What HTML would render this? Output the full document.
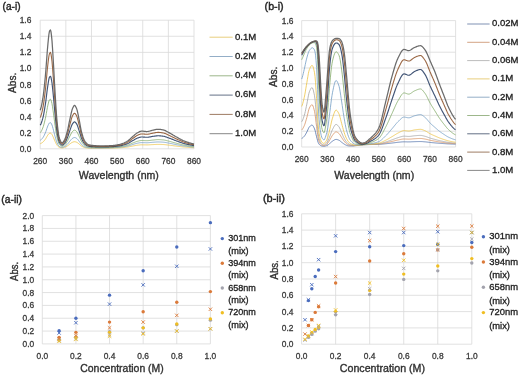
<!DOCTYPE html>
<html><head><meta charset="utf-8"><title>Absorption spectra</title>
<style>
html,body{margin:0;padding:0;background:#fff;}
body{width:520px;height:375px;overflow:hidden;}
svg{display:block;font-family:'Liberation Sans', Arial, sans-serif;filter:blur(0.4px);}
</style></head><body>
<svg width="520" height="375" viewBox="0 0 520 375">
<rect width="520" height="375" fill="#fff"/>
<text x="2.60" y="10.30" font-size="10.2" text-anchor="start" fill="#262626" textLength="17.90" lengthAdjust="spacingAndGlyphs" stroke="#262626" stroke-width="0.4" >(a-i)</text>
<text x="264.60" y="10.30" font-size="10.2" text-anchor="start" fill="#262626" textLength="19.00" lengthAdjust="spacingAndGlyphs" stroke="#262626" stroke-width="0.4" >(b-i)</text>
<text x="1.30" y="202.50" font-size="10.2" text-anchor="start" fill="#262626" textLength="20.60" lengthAdjust="spacingAndGlyphs" stroke="#262626" stroke-width="0.4" >(a-ii)</text>
<text x="262.90" y="202.20" font-size="10.2" text-anchor="start" fill="#262626" textLength="22.00" lengthAdjust="spacingAndGlyphs" stroke="#262626" stroke-width="0.4" >(b-ii)</text>
<line x1="40.20" y1="148.80" x2="194.00" y2="148.80" stroke="#d9d9d9" stroke-width="0.8"/>
<text x="31.30" y="151.80" font-size="8.4" text-anchor="end" fill="#383838" stroke="#383838" stroke-width="0.28" >0.0</text>
<line x1="40.20" y1="132.73" x2="194.00" y2="132.73" stroke="#d9d9d9" stroke-width="0.8"/>
<text x="31.30" y="135.73" font-size="8.4" text-anchor="end" fill="#383838" stroke="#383838" stroke-width="0.28" >0.2</text>
<line x1="40.20" y1="116.65" x2="194.00" y2="116.65" stroke="#d9d9d9" stroke-width="0.8"/>
<text x="31.30" y="119.65" font-size="8.4" text-anchor="end" fill="#383838" stroke="#383838" stroke-width="0.28" >0.4</text>
<line x1="40.20" y1="100.57" x2="194.00" y2="100.57" stroke="#d9d9d9" stroke-width="0.8"/>
<text x="31.30" y="103.57" font-size="8.4" text-anchor="end" fill="#383838" stroke="#383838" stroke-width="0.28" >0.6</text>
<line x1="40.20" y1="84.50" x2="194.00" y2="84.50" stroke="#d9d9d9" stroke-width="0.8"/>
<text x="31.30" y="87.50" font-size="8.4" text-anchor="end" fill="#383838" stroke="#383838" stroke-width="0.28" >0.8</text>
<line x1="40.20" y1="68.42" x2="194.00" y2="68.42" stroke="#d9d9d9" stroke-width="0.8"/>
<text x="31.30" y="71.42" font-size="8.4" text-anchor="end" fill="#383838" stroke="#383838" stroke-width="0.28" >1.0</text>
<line x1="40.20" y1="52.35" x2="194.00" y2="52.35" stroke="#d9d9d9" stroke-width="0.8"/>
<text x="31.30" y="55.35" font-size="8.4" text-anchor="end" fill="#383838" stroke="#383838" stroke-width="0.28" >1.2</text>
<line x1="40.20" y1="36.27" x2="194.00" y2="36.27" stroke="#d9d9d9" stroke-width="0.8"/>
<text x="31.30" y="39.27" font-size="8.4" text-anchor="end" fill="#383838" stroke="#383838" stroke-width="0.28" >1.4</text>
<line x1="40.20" y1="20.20" x2="194.00" y2="20.20" stroke="#d9d9d9" stroke-width="0.8"/>
<text x="31.30" y="23.20" font-size="8.4" text-anchor="end" fill="#383838" stroke="#383838" stroke-width="0.28" >1.6</text>
<line x1="40.20" y1="20.20" x2="40.20" y2="148.80" stroke="#d9d9d9" stroke-width="0.8"/>
<text x="40.20" y="163.60" font-size="8.4" text-anchor="middle" fill="#383838" stroke="#383838" stroke-width="0.28" >260</text>
<line x1="65.83" y1="20.20" x2="65.83" y2="148.80" stroke="#d9d9d9" stroke-width="0.8"/>
<text x="65.83" y="163.60" font-size="8.4" text-anchor="middle" fill="#383838" stroke="#383838" stroke-width="0.28" >360</text>
<line x1="91.47" y1="20.20" x2="91.47" y2="148.80" stroke="#d9d9d9" stroke-width="0.8"/>
<text x="91.47" y="163.60" font-size="8.4" text-anchor="middle" fill="#383838" stroke="#383838" stroke-width="0.28" >460</text>
<line x1="117.10" y1="20.20" x2="117.10" y2="148.80" stroke="#d9d9d9" stroke-width="0.8"/>
<text x="117.10" y="163.60" font-size="8.4" text-anchor="middle" fill="#383838" stroke="#383838" stroke-width="0.28" >560</text>
<line x1="142.73" y1="20.20" x2="142.73" y2="148.80" stroke="#d9d9d9" stroke-width="0.8"/>
<text x="142.73" y="163.60" font-size="8.4" text-anchor="middle" fill="#383838" stroke="#383838" stroke-width="0.28" >660</text>
<line x1="168.37" y1="20.20" x2="168.37" y2="148.80" stroke="#d9d9d9" stroke-width="0.8"/>
<text x="168.37" y="163.60" font-size="8.4" text-anchor="middle" fill="#383838" stroke="#383838" stroke-width="0.28" >760</text>
<line x1="194.00" y1="20.20" x2="194.00" y2="148.80" stroke="#d9d9d9" stroke-width="0.8"/>
<text x="194.00" y="163.60" font-size="8.4" text-anchor="middle" fill="#383838" stroke="#383838" stroke-width="0.28" >860</text>
<path d="M40.20,143.71 L40.71,143.52 L41.23,143.27 L41.74,142.96 L42.25,142.61 L42.76,142.22 L43.28,141.77 L43.79,141.23 L44.30,140.61 L44.81,139.94 L45.33,139.25 L45.84,138.47 L46.35,137.57 L46.86,136.65 L47.38,135.76 L47.89,135.01 L48.40,134.31 L48.92,133.68 L49.43,133.31 L49.94,133.16 L50.45,133.10 L50.97,133.33 L51.48,133.86 L51.99,134.52 L52.50,135.50 L53.02,136.60 L53.53,137.74 L54.04,138.98 L54.55,140.22 L55.07,141.37 L55.58,142.47 L56.09,143.55 L56.61,144.53 L57.12,145.30 L57.63,145.92 L58.14,146.49 L58.66,146.94 L59.17,147.26 L59.68,147.45 L60.19,147.60 L60.71,147.73 L61.22,147.83 L61.73,147.89 L62.24,147.90 L62.76,147.86 L63.27,147.76 L63.78,147.62 L64.30,147.45 L64.81,147.27 L65.32,147.06 L65.83,146.80 L66.35,146.53 L66.86,146.23 L67.37,145.92 L67.88,145.57 L68.40,145.17 L68.91,144.76 L69.42,144.34 L69.93,143.95 L70.45,143.57 L70.96,143.18 L71.47,142.81 L71.99,142.49 L72.50,142.25 L73.01,142.06 L73.52,141.89 L74.04,141.77 L74.55,141.73 L75.06,141.77 L75.57,141.89 L76.09,142.06 L76.60,142.25 L77.11,142.50 L77.62,142.84 L78.14,143.25 L78.65,143.67 L79.16,144.08 L79.68,144.50 L80.19,144.96 L80.70,145.42 L81.21,145.84 L81.73,146.18 L82.24,146.47 L82.75,146.74 L83.26,146.99 L83.78,147.22 L84.29,147.41 L84.80,147.56 L85.31,147.67 L85.83,147.77 L86.34,147.86 L86.85,147.94 L87.37,148.00 L87.88,148.06 L88.39,148.10 L88.90,148.12 L89.42,148.14 L89.93,148.16 L90.44,148.17 L90.95,148.18 L91.47,148.19 L91.98,148.20 L92.49,148.21 L93.00,148.22 L93.52,148.22 L94.03,148.23 L94.54,148.23 L95.06,148.23 L95.57,148.24 L96.08,148.24 L96.59,148.24 L97.11,148.25 L97.62,148.25 L98.13,148.25 L98.64,148.26 L99.16,148.26 L99.67,148.26 L100.18,148.26 L100.69,148.26 L101.21,148.26 L101.72,148.25 L102.23,148.25 L102.75,148.25 L103.26,148.24 L103.77,148.24 L104.28,148.23 L104.80,148.23 L105.31,148.22 L105.82,148.21 L106.33,148.21 L106.85,148.20 L107.36,148.19 L107.87,148.18 L108.38,148.17 L108.90,148.17 L109.41,148.16 L109.92,148.15 L110.44,148.14 L110.95,148.13 L111.46,148.12 L111.97,148.11 L112.49,148.10 L113.00,148.08 L113.51,148.07 L114.02,148.05 L114.54,148.03 L115.05,148.01 L115.56,147.99 L116.07,147.97 L116.59,147.95 L117.10,147.92 L117.61,147.90 L118.13,147.88 L118.64,147.85 L119.15,147.83 L119.66,147.80 L120.18,147.77 L120.69,147.74 L121.20,147.71 L121.71,147.67 L122.23,147.63 L122.74,147.58 L123.25,147.54 L123.76,147.49 L124.28,147.44 L124.79,147.38 L125.30,147.32 L125.82,147.27 L126.33,147.20 L126.84,147.14 L127.35,147.07 L127.87,147.00 L128.38,146.92 L128.89,146.82 L129.40,146.72 L129.92,146.61 L130.43,146.50 L130.94,146.39 L131.45,146.28 L131.97,146.17 L132.48,146.08 L132.99,145.98 L133.51,145.88 L134.02,145.78 L134.53,145.68 L135.04,145.58 L135.56,145.48 L136.07,145.39 L136.58,145.31 L137.09,145.23 L137.61,145.17 L138.12,145.11 L138.63,145.04 L139.14,144.98 L139.66,144.93 L140.17,144.88 L140.68,144.84 L141.20,144.81 L141.71,144.80 L142.22,144.81 L142.73,144.81 L143.25,144.82 L143.76,144.84 L144.27,144.85 L144.78,144.86 L145.30,144.87 L145.81,144.89 L146.32,144.89 L146.83,144.89 L147.35,144.89 L147.86,144.88 L148.37,144.86 L148.89,144.83 L149.40,144.81 L149.91,144.77 L150.42,144.74 L150.94,144.71 L151.45,144.67 L151.96,144.64 L152.47,144.61 L152.99,144.59 L153.50,144.56 L154.01,144.54 L154.52,144.51 L155.04,144.48 L155.55,144.46 L156.06,144.43 L156.58,144.42 L157.09,144.40 L157.60,144.39 L158.11,144.39 L158.63,144.39 L159.14,144.39 L159.65,144.40 L160.16,144.42 L160.68,144.43 L161.19,144.45 L161.70,144.47 L162.21,144.49 L162.73,144.51 L163.24,144.53 L163.75,144.56 L164.27,144.60 L164.78,144.65 L165.29,144.70 L165.80,144.76 L166.32,144.82 L166.83,144.89 L167.34,144.95 L167.85,145.01 L168.37,145.08 L168.88,145.14 L169.39,145.20 L169.90,145.26 L170.42,145.33 L170.93,145.40 L171.44,145.47 L171.96,145.53 L172.47,145.60 L172.98,145.67 L173.49,145.74 L174.01,145.81 L174.52,145.88 L175.03,145.95 L175.54,146.01 L176.06,146.08 L176.57,146.14 L177.08,146.20 L177.59,146.27 L178.11,146.34 L178.62,146.40 L179.13,146.47 L179.65,146.53 L180.16,146.59 L180.67,146.66 L181.18,146.72 L181.70,146.77 L182.21,146.83 L182.72,146.89 L183.23,146.94 L183.75,146.98 L184.26,147.03 L184.77,147.07 L185.28,147.12 L185.80,147.16 L186.31,147.21 L186.82,147.25 L187.34,147.29 L187.85,147.33 L188.36,147.37 L188.87,147.41 L189.39,147.44 L189.90,147.48 L190.41,147.51 L190.92,147.54 L191.44,147.58 L191.95,147.61 L192.46,147.63 L192.97,147.66 L193.49,147.69 L194.00,147.71" stroke="#ebbf39" stroke-width="1.0" stroke-opacity="0.75" fill="none" stroke-linejoin="round"/>
<path d="M40.20,140.31 L40.71,140.00 L41.23,139.58 L41.74,139.06 L42.25,138.48 L42.76,137.84 L43.28,137.09 L43.79,136.18 L44.30,135.15 L44.81,134.04 L45.33,132.89 L45.84,131.58 L46.35,130.09 L46.86,128.54 L47.38,127.07 L47.89,125.81 L48.40,124.65 L48.92,123.60 L49.43,122.98 L49.94,122.74 L50.45,122.63 L50.97,123.02 L51.48,123.90 L51.99,124.99 L52.50,126.63 L53.02,128.47 L53.53,130.37 L54.04,132.43 L54.55,134.50 L55.07,136.42 L55.58,138.25 L56.09,140.06 L56.61,141.68 L57.12,142.96 L57.63,144.01 L58.14,144.95 L58.66,145.71 L59.17,146.26 L59.68,146.57 L60.19,146.82 L60.71,147.04 L61.22,147.21 L61.73,147.32 L62.24,147.35 L62.76,147.28 L63.27,147.12 L63.78,146.89 L64.30,146.63 L64.81,146.34 L65.32,146.02 L65.83,145.61 L66.35,145.17 L66.86,144.70 L67.37,144.20 L67.88,143.65 L68.40,143.02 L68.91,142.35 L69.42,141.69 L69.93,141.07 L70.45,140.46 L70.96,139.84 L71.47,139.24 L71.99,138.73 L72.50,138.35 L73.01,138.05 L73.52,137.78 L74.04,137.59 L74.55,137.52 L75.06,137.59 L75.57,137.78 L76.09,138.05 L76.60,138.35 L77.11,138.75 L77.62,139.30 L78.14,139.94 L78.65,140.62 L79.16,141.28 L79.68,141.95 L80.19,142.68 L80.70,143.41 L81.21,144.07 L81.73,144.62 L82.24,145.08 L82.75,145.52 L83.26,145.92 L83.78,146.28 L84.29,146.58 L84.80,146.82 L85.31,147.00 L85.83,147.16 L86.34,147.31 L86.85,147.43 L87.37,147.53 L87.88,147.62 L88.39,147.68 L88.90,147.72 L89.42,147.75 L89.93,147.78 L90.44,147.80 L90.95,147.82 L91.47,147.84 L91.98,147.85 L92.49,147.87 L93.00,147.88 L93.52,147.88 L94.03,147.89 L94.54,147.90 L95.06,147.91 L95.57,147.91 L96.08,147.92 L96.59,147.92 L97.11,147.93 L97.62,147.94 L98.13,147.94 L98.64,147.94 L99.16,147.95 L99.67,147.95 L100.18,147.95 L100.69,147.95 L101.21,147.95 L101.72,147.94 L102.23,147.94 L102.75,147.93 L103.26,147.93 L103.77,147.92 L104.28,147.91 L104.80,147.90 L105.31,147.89 L105.82,147.88 L106.33,147.87 L106.85,147.86 L107.36,147.85 L107.87,147.84 L108.38,147.83 L108.90,147.81 L109.41,147.80 L109.92,147.78 L110.44,147.77 L110.95,147.75 L111.46,147.74 L111.97,147.72 L112.49,147.71 L113.00,147.69 L113.51,147.66 L114.02,147.64 L114.54,147.61 L115.05,147.58 L115.56,147.55 L116.07,147.52 L116.59,147.48 L117.10,147.44 L117.61,147.41 L118.13,147.37 L118.64,147.33 L119.15,147.29 L119.66,147.25 L120.18,147.21 L120.69,147.16 L121.20,147.11 L121.71,147.05 L122.23,146.99 L122.74,146.92 L123.25,146.85 L123.76,146.77 L124.28,146.69 L124.79,146.60 L125.30,146.52 L125.82,146.42 L126.33,146.33 L126.84,146.23 L127.35,146.13 L127.87,146.01 L128.38,145.88 L128.89,145.73 L129.40,145.58 L129.92,145.41 L130.43,145.24 L130.94,145.07 L131.45,144.90 L131.97,144.73 L132.48,144.58 L132.99,144.43 L133.51,144.28 L134.02,144.12 L134.53,143.96 L135.04,143.81 L135.56,143.66 L136.07,143.52 L136.58,143.39 L137.09,143.27 L137.61,143.17 L138.12,143.08 L138.63,142.98 L139.14,142.89 L139.66,142.80 L140.17,142.72 L140.68,142.66 L141.20,142.63 L141.71,142.61 L142.22,142.62 L142.73,142.63 L143.25,142.64 L143.76,142.66 L144.27,142.68 L144.78,142.70 L145.30,142.72 L145.81,142.74 L146.32,142.75 L146.83,142.75 L147.35,142.75 L147.86,142.73 L148.37,142.70 L148.89,142.66 L149.40,142.61 L149.91,142.56 L150.42,142.51 L150.94,142.46 L151.45,142.41 L151.96,142.36 L152.47,142.31 L152.99,142.27 L153.50,142.24 L154.01,142.20 L154.52,142.16 L155.04,142.11 L155.55,142.08 L156.06,142.04 L156.58,142.01 L157.09,141.99 L157.60,141.97 L158.11,141.96 L158.63,141.97 L159.14,141.98 L159.65,141.99 L160.16,142.01 L160.68,142.03 L161.19,142.06 L161.70,142.09 L162.21,142.12 L162.73,142.15 L163.24,142.19 L163.75,142.23 L164.27,142.29 L164.78,142.37 L165.29,142.45 L165.80,142.54 L166.32,142.64 L166.83,142.74 L167.34,142.84 L167.85,142.94 L168.37,143.03 L168.88,143.13 L169.39,143.22 L169.90,143.32 L170.42,143.43 L170.93,143.53 L171.44,143.64 L171.96,143.74 L172.47,143.85 L172.98,143.96 L173.49,144.06 L174.01,144.17 L174.52,144.28 L175.03,144.38 L175.54,144.48 L176.06,144.58 L176.57,144.68 L177.08,144.78 L177.59,144.88 L178.11,144.98 L178.62,145.08 L179.13,145.19 L179.65,145.28 L180.16,145.38 L180.67,145.48 L181.18,145.57 L181.70,145.66 L182.21,145.75 L182.72,145.83 L183.23,145.91 L183.75,145.99 L184.26,146.06 L184.77,146.13 L185.28,146.20 L185.80,146.26 L186.31,146.33 L186.82,146.40 L187.34,146.46 L187.85,146.52 L188.36,146.58 L188.87,146.64 L189.39,146.70 L189.90,146.75 L190.41,146.81 L190.92,146.86 L191.44,146.91 L191.95,146.95 L192.46,147.00 L192.97,147.04 L193.49,147.08 L194.00,147.11" stroke="#6a97c0" stroke-width="1.0" stroke-opacity="0.75" fill="none" stroke-linejoin="round"/>
<path d="M40.20,132.71 L40.71,132.12 L41.23,131.32 L41.74,130.35 L42.25,129.23 L42.76,128.02 L43.28,126.60 L43.79,124.88 L44.30,122.93 L44.81,120.82 L45.33,118.64 L45.84,116.17 L46.35,113.34 L46.86,110.41 L47.38,107.62 L47.89,105.23 L48.40,103.02 L48.92,101.03 L49.43,99.87 L49.94,99.40 L50.45,99.20 L50.97,99.93 L51.48,101.60 L51.99,103.68 L52.50,106.78 L53.02,110.26 L53.53,113.87 L54.04,117.78 L54.55,121.70 L55.07,125.34 L55.58,128.81 L56.09,132.23 L56.61,135.30 L57.12,137.74 L57.63,139.71 L58.14,141.51 L58.66,143.00 L59.17,144.07 L59.68,144.69 L60.19,145.19 L60.71,145.62 L61.22,145.96 L61.73,146.17 L62.24,146.24 L62.76,146.15 L63.27,145.90 L63.78,145.54 L64.30,145.11 L64.81,144.67 L65.32,144.16 L65.83,143.53 L66.35,142.80 L66.86,142.02 L67.37,141.20 L67.88,140.28 L68.40,139.24 L68.91,138.13 L69.42,137.03 L69.93,136.01 L70.45,135.01 L70.96,133.97 L71.47,132.99 L71.99,132.15 L72.50,131.52 L73.01,131.03 L73.52,130.58 L74.04,130.26 L74.55,130.14 L75.06,130.26 L75.57,130.58 L76.09,131.02 L76.60,131.52 L77.11,132.18 L77.62,133.09 L78.14,134.15 L78.65,135.27 L79.16,136.36 L79.68,137.47 L80.19,138.68 L80.70,139.88 L81.21,140.98 L81.73,141.89 L82.24,142.65 L82.75,143.37 L83.26,144.03 L83.78,144.63 L84.29,145.13 L84.80,145.53 L85.31,145.83 L85.83,146.09 L86.34,146.33 L86.85,146.54 L87.37,146.72 L87.88,146.87 L88.39,146.98 L88.90,147.06 L89.42,147.11 L89.93,147.16 L90.44,147.20 L90.95,147.24 L91.47,147.27 L91.98,147.30 L92.49,147.33 L93.00,147.35 L93.52,147.37 L94.03,147.39 L94.54,147.40 L95.06,147.42 L95.57,147.43 L96.08,147.45 L96.59,147.46 L97.11,147.48 L97.62,147.49 L98.13,147.50 L98.64,147.51 L99.16,147.52 L99.67,147.52 L100.18,147.53 L100.69,147.53 L101.21,147.53 L101.72,147.53 L102.23,147.53 L102.75,147.53 L103.26,147.52 L103.77,147.52 L104.28,147.51 L104.80,147.50 L105.31,147.49 L105.82,147.48 L106.33,147.47 L106.85,147.46 L107.36,147.45 L107.87,147.44 L108.38,147.42 L108.90,147.41 L109.41,147.39 L109.92,147.38 L110.44,147.36 L110.95,147.34 L111.46,147.33 L111.97,147.31 L112.49,147.29 L113.00,147.27 L113.51,147.24 L114.02,147.21 L114.54,147.18 L115.05,147.14 L115.56,147.11 L116.07,147.06 L116.59,147.02 L117.10,146.97 L117.61,146.93 L118.13,146.88 L118.64,146.83 L119.15,146.78 L119.66,146.72 L120.18,146.66 L120.69,146.60 L121.20,146.53 L121.71,146.45 L122.23,146.36 L122.74,146.27 L123.25,146.17 L123.76,146.07 L124.28,145.96 L124.79,145.85 L125.30,145.73 L125.82,145.61 L126.33,145.48 L126.84,145.35 L127.35,145.21 L127.87,145.06 L128.38,144.88 L128.89,144.68 L129.40,144.47 L129.92,144.25 L130.43,144.02 L130.94,143.79 L131.45,143.56 L131.97,143.34 L132.48,143.13 L132.99,142.93 L133.51,142.72 L134.02,142.51 L134.53,142.30 L135.04,142.10 L135.56,141.90 L136.07,141.71 L136.58,141.54 L137.09,141.38 L137.61,141.24 L138.12,141.12 L138.63,140.99 L139.14,140.86 L139.66,140.74 L140.17,140.64 L140.68,140.56 L141.20,140.51 L141.71,140.49 L142.22,140.49 L142.73,140.51 L143.25,140.53 L143.76,140.56 L144.27,140.58 L144.78,140.61 L145.30,140.64 L145.81,140.66 L146.32,140.67 L146.83,140.68 L147.35,140.67 L147.86,140.64 L148.37,140.60 L148.89,140.55 L149.40,140.49 L149.91,140.43 L150.42,140.36 L150.94,140.29 L151.45,140.21 L151.96,140.15 L152.47,140.09 L152.99,140.04 L153.50,139.99 L154.01,139.93 L154.52,139.88 L155.04,139.82 L155.55,139.77 L156.06,139.72 L156.58,139.68 L157.09,139.65 L157.60,139.63 L158.11,139.62 L158.63,139.62 L159.14,139.64 L159.65,139.66 L160.16,139.68 L160.68,139.71 L161.19,139.75 L161.70,139.79 L162.21,139.83 L162.73,139.88 L163.24,139.92 L163.75,139.98 L164.27,140.06 L164.78,140.16 L165.29,140.27 L165.80,140.39 L166.32,140.52 L166.83,140.66 L167.34,140.79 L167.85,140.93 L168.37,141.06 L168.88,141.18 L169.39,141.31 L169.90,141.45 L170.42,141.58 L170.93,141.72 L171.44,141.86 L171.96,142.01 L172.47,142.15 L172.98,142.30 L173.49,142.44 L174.01,142.58 L174.52,142.72 L175.03,142.86 L175.54,143.00 L176.06,143.13 L176.57,143.27 L177.08,143.40 L177.59,143.54 L178.11,143.67 L178.62,143.81 L179.13,143.95 L179.65,144.08 L180.16,144.21 L180.67,144.34 L181.18,144.47 L181.70,144.59 L182.21,144.71 L182.72,144.82 L183.23,144.92 L183.75,145.02 L184.26,145.12 L184.77,145.21 L185.28,145.30 L185.80,145.39 L186.31,145.48 L186.82,145.57 L187.34,145.66 L187.85,145.74 L188.36,145.82 L188.87,145.90 L189.39,145.98 L189.90,146.05 L190.41,146.12 L190.92,146.19 L191.44,146.26 L191.95,146.32 L192.46,146.38 L192.97,146.43 L193.49,146.48 L194.00,146.53" stroke="#79a45d" stroke-width="1.0" stroke-opacity="0.75" fill="none" stroke-linejoin="round"/>
<path d="M40.20,125.27 L40.71,124.41 L41.23,123.23 L41.74,121.81 L42.25,120.18 L42.76,118.40 L43.28,116.32 L43.79,113.80 L44.30,110.95 L44.81,107.88 L45.33,104.67 L45.84,101.06 L46.35,96.93 L46.86,92.64 L47.38,88.56 L47.89,85.06 L48.40,81.83 L48.92,78.92 L49.43,77.22 L49.94,76.53 L50.45,76.24 L50.97,77.31 L51.48,79.76 L51.99,82.79 L52.50,87.33 L53.02,92.42 L53.53,97.70 L54.04,103.42 L54.55,109.16 L55.07,114.48 L55.58,119.56 L56.09,124.56 L56.61,129.05 L57.12,132.62 L57.63,135.51 L58.14,138.14 L58.66,140.32 L59.17,141.90 L59.68,142.81 L60.19,143.54 L60.71,144.17 L61.22,144.66 L61.73,144.98 L62.24,145.09 L62.76,144.95 L63.27,144.59 L63.78,144.08 L64.30,143.47 L64.81,142.83 L65.32,142.10 L65.83,141.19 L66.35,140.16 L66.86,139.02 L67.37,137.84 L67.88,136.52 L68.40,135.01 L68.91,133.42 L69.42,131.84 L69.93,130.36 L70.45,128.91 L70.96,127.42 L71.47,126.01 L71.99,124.79 L72.50,123.88 L73.01,123.17 L73.52,122.53 L74.04,122.07 L74.55,121.89 L75.06,122.07 L75.57,122.53 L76.09,123.17 L76.60,123.88 L77.11,124.83 L77.62,126.14 L78.14,127.68 L78.65,129.30 L79.16,130.86 L79.68,132.46 L80.19,134.20 L80.70,135.94 L81.21,137.53 L81.73,138.83 L82.24,139.93 L82.75,140.97 L83.26,141.93 L83.78,142.78 L84.29,143.51 L84.80,144.09 L85.31,144.52 L85.83,144.89 L86.34,145.24 L86.85,145.54 L87.37,145.80 L87.88,146.01 L88.39,146.18 L88.90,146.29 L89.42,146.37 L89.93,146.44 L90.44,146.50 L90.95,146.56 L91.47,146.61 L91.98,146.65 L92.49,146.68 L93.00,146.72 L93.52,146.74 L94.03,146.77 L94.54,146.79 L95.06,146.82 L95.57,146.84 L96.08,146.86 L96.59,146.88 L97.11,146.90 L97.62,146.92 L98.13,146.94 L98.64,146.95 L99.16,146.96 L99.67,146.97 L100.18,146.98 L100.69,146.99 L101.21,146.99 L101.72,146.99 L102.23,146.99 L102.75,146.98 L103.26,146.98 L103.77,146.97 L104.28,146.96 L104.80,146.95 L105.31,146.94 L105.82,146.92 L106.33,146.91 L106.85,146.89 L107.36,146.87 L107.87,146.86 L108.38,146.84 L108.90,146.82 L109.41,146.80 L109.92,146.77 L110.44,146.75 L110.95,146.73 L111.46,146.70 L111.97,146.68 L112.49,146.65 L113.00,146.62 L113.51,146.59 L114.02,146.54 L114.54,146.50 L115.05,146.45 L115.56,146.39 L116.07,146.34 L116.59,146.27 L117.10,146.21 L117.61,146.14 L118.13,146.07 L118.64,146.00 L119.15,145.93 L119.66,145.85 L120.18,145.77 L120.69,145.68 L121.20,145.57 L121.71,145.46 L122.23,145.34 L122.74,145.21 L123.25,145.07 L123.76,144.93 L124.28,144.78 L124.79,144.61 L125.30,144.45 L125.82,144.27 L126.33,144.09 L126.84,143.90 L127.35,143.71 L127.87,143.49 L128.38,143.24 L128.89,142.96 L129.40,142.65 L129.92,142.34 L130.43,142.01 L130.94,141.68 L131.45,141.36 L131.97,141.05 L132.48,140.76 L132.99,140.47 L133.51,140.18 L134.02,139.88 L134.53,139.58 L135.04,139.29 L135.56,139.01 L136.07,138.74 L136.58,138.49 L137.09,138.27 L137.61,138.08 L138.12,137.90 L138.63,137.71 L139.14,137.53 L139.66,137.37 L140.17,137.22 L140.68,137.11 L141.20,137.03 L141.71,137.01 L142.22,137.01 L142.73,137.03 L143.25,137.06 L143.76,137.10 L144.27,137.14 L144.78,137.18 L145.30,137.22 L145.81,137.25 L146.32,137.27 L146.83,137.27 L147.35,137.26 L147.86,137.22 L148.37,137.17 L148.89,137.10 L149.40,137.01 L149.91,136.92 L150.42,136.82 L150.94,136.72 L151.45,136.62 L151.96,136.52 L152.47,136.44 L152.99,136.36 L153.50,136.29 L154.01,136.22 L154.52,136.14 L155.04,136.06 L155.55,135.98 L156.06,135.92 L156.58,135.86 L157.09,135.81 L157.60,135.78 L158.11,135.77 L158.63,135.78 L159.14,135.80 L159.65,135.82 L160.16,135.86 L160.68,135.90 L161.19,135.95 L161.70,136.01 L162.21,136.07 L162.73,136.13 L163.24,136.20 L163.75,136.29 L164.27,136.40 L164.78,136.54 L165.29,136.70 L165.80,136.87 L166.32,137.06 L166.83,137.25 L167.34,137.44 L167.85,137.63 L168.37,137.81 L168.88,137.99 L169.39,138.17 L169.90,138.36 L170.42,138.56 L170.93,138.76 L171.44,138.96 L171.96,139.16 L172.47,139.36 L172.98,139.57 L173.49,139.77 L174.01,139.98 L174.52,140.18 L175.03,140.37 L175.54,140.57 L176.06,140.76 L176.57,140.95 L177.08,141.14 L177.59,141.33 L178.11,141.53 L178.62,141.72 L179.13,141.91 L179.65,142.10 L180.16,142.29 L180.67,142.47 L181.18,142.65 L181.70,142.82 L182.21,142.99 L182.72,143.15 L183.23,143.30 L183.75,143.44 L184.26,143.57 L184.77,143.71 L185.28,143.84 L185.80,143.97 L186.31,144.09 L186.82,144.22 L187.34,144.34 L187.85,144.46 L188.36,144.57 L188.87,144.68 L189.39,144.79 L189.90,144.90 L190.41,145.00 L190.92,145.10 L191.44,145.19 L191.95,145.28 L192.46,145.36 L192.97,145.44 L193.49,145.51 L194.00,145.58" stroke="#2e4367" stroke-width="1.15" stroke-opacity="0.9" fill="none" stroke-linejoin="round"/>
<path d="M40.20,117.55 L40.71,116.41 L41.23,114.85 L41.74,112.96 L42.25,110.79 L42.76,108.44 L43.28,105.67 L43.79,102.33 L44.30,98.54 L44.81,94.46 L45.33,90.21 L45.84,85.41 L46.35,79.92 L46.86,74.22 L47.38,68.81 L47.89,64.17 L48.40,59.88 L48.92,56.00 L49.43,53.75 L49.94,52.84 L50.45,52.45 L50.97,53.87 L51.48,57.12 L51.99,61.15 L52.50,67.18 L53.02,73.93 L53.53,80.95 L54.04,88.54 L54.55,96.16 L55.07,103.23 L55.58,109.97 L56.09,116.61 L56.61,122.58 L57.12,127.32 L57.63,131.15 L58.14,134.64 L58.66,137.54 L59.17,139.64 L59.68,140.85 L60.19,141.83 L60.71,142.67 L61.22,143.32 L61.73,143.74 L62.24,143.89 L62.76,143.70 L63.27,143.23 L63.78,142.54 L64.30,141.74 L64.81,140.90 L65.32,139.94 L65.83,138.74 L66.35,137.37 L66.86,135.87 L67.37,134.30 L67.88,132.55 L68.40,130.56 L68.91,128.46 L69.42,126.36 L69.93,124.41 L70.45,122.50 L70.96,120.53 L71.47,118.66 L71.99,117.04 L72.50,115.85 L73.01,114.91 L73.52,114.06 L74.04,113.45 L74.55,113.21 L75.06,113.44 L75.57,114.05 L76.09,114.90 L76.60,115.85 L77.11,117.10 L77.62,118.84 L78.14,120.87 L78.65,123.01 L79.16,125.07 L79.68,127.19 L80.19,129.49 L80.70,131.79 L81.21,133.89 L81.73,135.62 L82.24,137.07 L82.75,138.44 L83.26,139.71 L83.78,140.84 L84.29,141.80 L84.80,142.57 L85.31,143.13 L85.83,143.63 L86.34,144.09 L86.85,144.49 L87.37,144.84 L87.88,145.13 L88.39,145.35 L88.90,145.50 L89.42,145.61 L89.93,145.70 L90.44,145.78 L90.95,145.86 L91.47,145.92 L91.98,145.98 L92.49,146.03 L93.00,146.07 L93.52,146.11 L94.03,146.15 L94.54,146.18 L95.06,146.21 L95.57,146.24 L96.08,146.28 L96.59,146.30 L97.11,146.33 L97.62,146.36 L98.13,146.38 L98.64,146.40 L99.16,146.42 L99.67,146.44 L100.18,146.45 L100.69,146.46 L101.21,146.46 L101.72,146.47 L102.23,146.46 L102.75,146.46 L103.26,146.45 L103.77,146.44 L104.28,146.43 L104.80,146.42 L105.31,146.41 L105.82,146.39 L106.33,146.38 L106.85,146.36 L107.36,146.34 L107.87,146.32 L108.38,146.29 L108.90,146.27 L109.41,146.25 L109.92,146.22 L110.44,146.19 L110.95,146.17 L111.46,146.14 L111.97,146.11 L112.49,146.08 L113.00,146.04 L113.51,146.00 L114.02,145.95 L114.54,145.89 L115.05,145.83 L115.56,145.76 L116.07,145.69 L116.59,145.62 L117.10,145.54 L117.61,145.45 L118.13,145.37 L118.64,145.28 L119.15,145.18 L119.66,145.09 L120.18,144.98 L120.69,144.87 L121.20,144.74 L121.71,144.60 L122.23,144.44 L122.74,144.28 L123.25,144.11 L123.76,143.92 L124.28,143.73 L124.79,143.53 L125.30,143.32 L125.82,143.10 L126.33,142.87 L126.84,142.63 L127.35,142.39 L127.87,142.11 L128.38,141.80 L128.89,141.44 L129.40,141.06 L129.92,140.66 L130.43,140.25 L130.94,139.84 L131.45,139.43 L131.97,139.04 L132.48,138.67 L132.99,138.31 L133.51,137.94 L134.02,137.56 L134.53,137.19 L135.04,136.82 L135.56,136.47 L136.07,136.13 L136.58,135.82 L137.09,135.54 L137.61,135.30 L138.12,135.07 L138.63,134.84 L139.14,134.61 L139.66,134.40 L140.17,134.22 L140.68,134.07 L141.20,133.98 L141.71,133.95 L142.22,133.96 L142.73,133.98 L143.25,134.02 L143.76,134.07 L144.27,134.12 L144.78,134.17 L145.30,134.21 L145.81,134.25 L146.32,134.27 L146.83,134.28 L147.35,134.27 L147.86,134.22 L148.37,134.15 L148.89,134.06 L149.40,133.95 L149.91,133.84 L150.42,133.71 L150.94,133.58 L151.45,133.46 L151.96,133.34 L152.47,133.23 L152.99,133.14 L153.50,133.05 L154.01,132.95 L154.52,132.85 L155.04,132.76 L155.55,132.66 L156.06,132.58 L156.58,132.50 L157.09,132.44 L157.60,132.41 L158.11,132.39 L158.63,132.40 L159.14,132.42 L159.65,132.46 L160.16,132.50 L160.68,132.56 L161.19,132.62 L161.70,132.69 L162.21,132.77 L162.73,132.85 L163.24,132.93 L163.75,133.04 L164.27,133.18 L164.78,133.36 L165.29,133.56 L165.80,133.78 L166.32,134.01 L166.83,134.25 L167.34,134.49 L167.85,134.73 L168.37,134.96 L168.88,135.18 L169.39,135.42 L169.90,135.66 L170.42,135.90 L170.93,136.15 L171.44,136.41 L171.96,136.66 L172.47,136.92 L172.98,137.18 L173.49,137.43 L174.01,137.69 L174.52,137.94 L175.03,138.19 L175.54,138.43 L176.06,138.67 L176.57,138.91 L177.08,139.15 L177.59,139.39 L178.11,139.64 L178.62,139.88 L179.13,140.12 L179.65,140.36 L180.16,140.60 L180.67,140.83 L181.18,141.06 L181.70,141.27 L182.21,141.48 L182.72,141.68 L183.23,141.87 L183.75,142.05 L184.26,142.22 L184.77,142.39 L185.28,142.55 L185.80,142.71 L186.31,142.87 L186.82,143.03 L187.34,143.18 L187.85,143.33 L188.36,143.48 L188.87,143.62 L189.39,143.75 L189.90,143.89 L190.41,144.01 L190.92,144.14 L191.44,144.25 L191.95,144.36 L192.46,144.47 L192.97,144.57 L193.49,144.66 L194.00,144.75" stroke="#8a4e25" stroke-width="1.1" stroke-opacity="0.85" fill="none" stroke-linejoin="round"/>
<path d="M40.20,110.22 L40.71,108.81 L41.23,106.89 L41.74,104.55 L42.25,101.88 L42.76,98.97 L43.28,95.55 L43.79,91.43 L44.30,86.76 L44.81,81.71 L45.33,76.46 L45.84,70.54 L46.35,63.76 L46.86,56.73 L47.38,50.05 L47.89,44.31 L48.40,39.02 L48.92,34.24 L49.43,31.45 L49.94,30.33 L50.45,29.84 L50.97,31.60 L51.48,35.61 L51.99,40.59 L52.50,48.03 L53.02,56.37 L53.53,65.03 L54.04,74.41 L54.55,83.81 L55.07,92.54 L55.58,100.86 L56.09,109.06 L56.61,116.43 L57.12,122.28 L57.63,127.01 L58.14,131.32 L58.66,134.91 L59.17,137.51 L59.68,139.01 L60.19,140.22 L60.71,141.26 L61.22,142.06 L61.73,142.59 L62.24,142.77 L62.76,142.56 L63.27,141.98 L63.78,141.15 L64.30,140.17 L64.81,139.16 L65.32,137.99 L65.83,136.53 L66.35,134.86 L66.86,133.03 L67.37,131.12 L67.88,128.99 L68.40,126.56 L68.91,123.99 L69.42,121.44 L69.93,119.06 L70.45,116.72 L70.96,114.32 L71.47,112.04 L71.99,110.07 L72.50,108.61 L73.01,107.47 L73.52,106.43 L74.04,105.69 L74.55,105.40 L75.06,105.68 L75.57,106.42 L76.09,107.46 L76.60,108.61 L77.11,110.14 L77.62,112.26 L78.14,114.73 L78.65,117.34 L79.16,119.87 L79.68,122.45 L80.19,125.25 L80.70,128.05 L81.21,130.62 L81.73,132.73 L82.24,134.49 L82.75,136.17 L83.26,137.71 L83.78,139.09 L84.29,140.27 L84.80,141.20 L85.31,141.89 L85.83,142.50 L86.34,143.06 L86.85,143.55 L87.37,143.97 L87.88,144.32 L88.39,144.60 L88.90,144.78 L89.42,144.91 L89.93,145.03 L90.44,145.13 L90.95,145.23 L91.47,145.31 L91.98,145.38 L92.49,145.44 L93.00,145.49 L93.52,145.54 L94.03,145.59 L94.54,145.63 L95.06,145.67 L95.57,145.71 L96.08,145.74 L96.59,145.78 L97.11,145.82 L97.62,145.85 L98.13,145.88 L98.64,145.91 L99.16,145.93 L99.67,145.95 L100.18,145.97 L100.69,145.98 L101.21,145.98 L101.72,145.99 L102.23,145.99 L102.75,145.98 L103.26,145.98 L103.77,145.97 L104.28,145.96 L104.80,145.94 L105.31,145.93 L105.82,145.91 L106.33,145.89 L106.85,145.87 L107.36,145.85 L107.87,145.82 L108.38,145.80 L108.90,145.77 L109.41,145.74 L109.92,145.71 L110.44,145.68 L110.95,145.65 L111.46,145.62 L111.97,145.59 L112.49,145.55 L113.00,145.50 L113.51,145.45 L114.02,145.39 L114.54,145.33 L115.05,145.26 L115.56,145.18 L116.07,145.10 L116.59,145.01 L117.10,144.91 L117.61,144.82 L118.13,144.71 L118.64,144.61 L119.15,144.49 L119.66,144.38 L120.18,144.25 L120.69,144.12 L121.20,143.96 L121.71,143.80 L122.23,143.61 L122.74,143.42 L123.25,143.21 L123.76,143.00 L124.28,142.77 L124.79,142.52 L125.30,142.27 L125.82,142.01 L126.33,141.74 L126.84,141.46 L127.35,141.16 L127.87,140.84 L128.38,140.46 L128.89,140.04 L129.40,139.59 L129.92,139.11 L130.43,138.62 L130.94,138.13 L131.45,137.65 L131.97,137.18 L132.48,136.74 L132.99,136.31 L133.51,135.87 L134.02,135.42 L134.53,134.98 L135.04,134.54 L135.56,134.12 L136.07,133.72 L136.58,133.35 L137.09,133.01 L137.61,132.73 L138.12,132.45 L138.63,132.18 L139.14,131.91 L139.66,131.66 L140.17,131.44 L140.68,131.27 L141.20,131.16 L141.71,131.12 L142.22,131.13 L142.73,131.16 L143.25,131.20 L143.76,131.26 L144.27,131.32 L144.78,131.38 L145.30,131.43 L145.81,131.48 L146.32,131.51 L146.83,131.52 L147.35,131.50 L147.86,131.45 L148.37,131.36 L148.89,131.25 L149.40,131.13 L149.91,130.98 L150.42,130.84 L150.94,130.68 L151.45,130.53 L151.96,130.39 L152.47,130.26 L152.99,130.15 L153.50,130.05 L154.01,129.93 L154.52,129.82 L155.04,129.70 L155.55,129.59 L156.06,129.48 L156.58,129.40 L157.09,129.33 L157.60,129.28 L158.11,129.27 L158.63,129.28 L159.14,129.30 L159.65,129.34 L160.16,129.40 L160.68,129.46 L161.19,129.54 L161.70,129.62 L162.21,129.72 L162.73,129.81 L163.24,129.91 L163.75,130.04 L164.27,130.21 L164.78,130.42 L165.29,130.65 L165.80,130.92 L166.32,131.19 L166.83,131.48 L167.34,131.77 L167.85,132.05 L168.37,132.32 L168.88,132.59 L169.39,132.87 L169.90,133.15 L170.42,133.45 L170.93,133.74 L171.44,134.04 L171.96,134.35 L172.47,134.65 L172.98,134.96 L173.49,135.27 L174.01,135.57 L174.52,135.87 L175.03,136.17 L175.54,136.46 L176.06,136.74 L176.57,137.03 L177.08,137.31 L177.59,137.60 L178.11,137.89 L178.62,138.18 L179.13,138.47 L179.65,138.76 L180.16,139.04 L180.67,139.31 L181.18,139.58 L181.70,139.84 L182.21,140.09 L182.72,140.33 L183.23,140.55 L183.75,140.76 L184.26,140.96 L184.77,141.16 L185.28,141.36 L185.80,141.55 L186.31,141.74 L186.82,141.93 L187.34,142.11 L187.85,142.29 L188.36,142.46 L188.87,142.63 L189.39,142.79 L189.90,142.95 L190.41,143.10 L190.92,143.25 L191.44,143.39 L191.95,143.52 L192.46,143.64 L192.97,143.76 L193.49,143.87 L194.00,143.98" stroke="#636363" stroke-width="1.25" stroke-opacity="0.95" fill="none" stroke-linejoin="round"/>
<line x1="209.50" y1="37.20" x2="232.70" y2="37.20" stroke="#e1bf55" stroke-width="0.9" stroke-opacity="0.85"/>
<text x="235.00" y="39.50" font-size="9.9" text-anchor="start" fill="#1e1e1e" textLength="21.30" lengthAdjust="spacingAndGlyphs" stroke="#1e1e1e" stroke-width="0.33" >0.1M</text>
<line x1="209.50" y1="56.50" x2="232.70" y2="56.50" stroke="#7295b5" stroke-width="0.9" stroke-opacity="0.85"/>
<text x="235.00" y="58.80" font-size="9.9" text-anchor="start" fill="#1e1e1e" textLength="21.30" lengthAdjust="spacingAndGlyphs" stroke="#1e1e1e" stroke-width="0.33" >0.2M</text>
<line x1="209.50" y1="75.80" x2="232.70" y2="75.80" stroke="#7ea067" stroke-width="0.9" stroke-opacity="0.85"/>
<text x="235.00" y="78.10" font-size="9.9" text-anchor="start" fill="#1e1e1e" textLength="21.30" lengthAdjust="spacingAndGlyphs" stroke="#1e1e1e" stroke-width="0.33" >0.4M</text>
<line x1="209.50" y1="95.10" x2="232.70" y2="95.10" stroke="#32435f" stroke-width="0.9" stroke-opacity="0.85"/>
<text x="235.00" y="97.40" font-size="9.9" text-anchor="start" fill="#1e1e1e" textLength="21.30" lengthAdjust="spacingAndGlyphs" stroke="#1e1e1e" stroke-width="0.33" >0.6M</text>
<line x1="209.50" y1="114.40" x2="232.70" y2="114.40" stroke="#805131" stroke-width="0.9" stroke-opacity="0.85"/>
<text x="235.00" y="116.70" font-size="9.9" text-anchor="start" fill="#1e1e1e" textLength="21.30" lengthAdjust="spacingAndGlyphs" stroke="#1e1e1e" stroke-width="0.33" >0.8M</text>
<line x1="209.50" y1="133.70" x2="232.70" y2="133.70" stroke="#636363" stroke-width="0.9" stroke-opacity="0.85"/>
<text x="235.00" y="136.00" font-size="9.9" text-anchor="start" fill="#1e1e1e" textLength="21.30" lengthAdjust="spacingAndGlyphs" stroke="#1e1e1e" stroke-width="0.33" >1.0M</text>
<text x="118.85" y="178.80" font-size="10.4" text-anchor="middle" fill="#303030" textLength="80.00" lengthAdjust="spacingAndGlyphs" stroke="#303030" stroke-width="0.35" >Wavelength (nm)</text>
<text transform="translate(15.74,82.80) rotate(-90)" font-size="10.4" text-anchor="middle" fill="#303030" stroke="#303030" stroke-width="0.35" textLength="20.20" lengthAdjust="spacingAndGlyphs">Abs.</text>
<line x1="301.70" y1="147.00" x2="455.60" y2="147.00" stroke="#d9d9d9" stroke-width="0.8"/>
<text x="293.50" y="150.00" font-size="8.4" text-anchor="end" fill="#383838" stroke="#383838" stroke-width="0.28" >0.0</text>
<line x1="301.70" y1="131.20" x2="455.60" y2="131.20" stroke="#d9d9d9" stroke-width="0.8"/>
<text x="293.50" y="134.20" font-size="8.4" text-anchor="end" fill="#383838" stroke="#383838" stroke-width="0.28" >0.2</text>
<line x1="301.70" y1="115.40" x2="455.60" y2="115.40" stroke="#d9d9d9" stroke-width="0.8"/>
<text x="293.50" y="118.40" font-size="8.4" text-anchor="end" fill="#383838" stroke="#383838" stroke-width="0.28" >0.4</text>
<line x1="301.70" y1="99.60" x2="455.60" y2="99.60" stroke="#d9d9d9" stroke-width="0.8"/>
<text x="293.50" y="102.60" font-size="8.4" text-anchor="end" fill="#383838" stroke="#383838" stroke-width="0.28" >0.6</text>
<line x1="301.70" y1="83.80" x2="455.60" y2="83.80" stroke="#d9d9d9" stroke-width="0.8"/>
<text x="293.50" y="86.80" font-size="8.4" text-anchor="end" fill="#383838" stroke="#383838" stroke-width="0.28" >0.8</text>
<line x1="301.70" y1="68.00" x2="455.60" y2="68.00" stroke="#d9d9d9" stroke-width="0.8"/>
<text x="293.50" y="71.00" font-size="8.4" text-anchor="end" fill="#383838" stroke="#383838" stroke-width="0.28" >1.0</text>
<line x1="301.70" y1="52.20" x2="455.60" y2="52.20" stroke="#d9d9d9" stroke-width="0.8"/>
<text x="293.50" y="55.20" font-size="8.4" text-anchor="end" fill="#383838" stroke="#383838" stroke-width="0.28" >1.2</text>
<line x1="301.70" y1="36.40" x2="455.60" y2="36.40" stroke="#d9d9d9" stroke-width="0.8"/>
<text x="293.50" y="39.40" font-size="8.4" text-anchor="end" fill="#383838" stroke="#383838" stroke-width="0.28" >1.4</text>
<line x1="301.70" y1="20.60" x2="455.60" y2="20.60" stroke="#d9d9d9" stroke-width="0.8"/>
<text x="293.50" y="23.60" font-size="8.4" text-anchor="end" fill="#383838" stroke="#383838" stroke-width="0.28" >1.6</text>
<line x1="301.70" y1="20.60" x2="301.70" y2="147.00" stroke="#d9d9d9" stroke-width="0.8"/>
<text x="301.70" y="162.10" font-size="8.4" text-anchor="middle" fill="#383838" stroke="#383838" stroke-width="0.28" >260</text>
<line x1="327.35" y1="20.60" x2="327.35" y2="147.00" stroke="#d9d9d9" stroke-width="0.8"/>
<text x="327.35" y="162.10" font-size="8.4" text-anchor="middle" fill="#383838" stroke="#383838" stroke-width="0.28" >360</text>
<line x1="353.00" y1="20.60" x2="353.00" y2="147.00" stroke="#d9d9d9" stroke-width="0.8"/>
<text x="353.00" y="162.10" font-size="8.4" text-anchor="middle" fill="#383838" stroke="#383838" stroke-width="0.28" >460</text>
<line x1="378.65" y1="20.60" x2="378.65" y2="147.00" stroke="#d9d9d9" stroke-width="0.8"/>
<text x="378.65" y="162.10" font-size="8.4" text-anchor="middle" fill="#383838" stroke="#383838" stroke-width="0.28" >560</text>
<line x1="404.30" y1="20.60" x2="404.30" y2="147.00" stroke="#d9d9d9" stroke-width="0.8"/>
<text x="404.30" y="162.10" font-size="8.4" text-anchor="middle" fill="#383838" stroke="#383838" stroke-width="0.28" >660</text>
<line x1="429.95" y1="20.60" x2="429.95" y2="147.00" stroke="#d9d9d9" stroke-width="0.8"/>
<text x="429.95" y="162.10" font-size="8.4" text-anchor="middle" fill="#383838" stroke="#383838" stroke-width="0.28" >760</text>
<line x1="455.60" y1="20.60" x2="455.60" y2="147.00" stroke="#d9d9d9" stroke-width="0.8"/>
<text x="455.60" y="162.10" font-size="8.4" text-anchor="middle" fill="#383838" stroke="#383838" stroke-width="0.28" >860</text>
<path d="M301.70,138.48 L302.21,138.19 L302.73,137.81 L303.24,137.35 L303.75,136.84 L304.26,136.27 L304.78,135.61 L305.29,134.81 L305.80,133.92 L306.32,132.98 L306.83,132.04 L307.34,131.00 L307.86,129.83 L308.37,128.66 L308.88,127.64 L309.39,126.91 L309.91,126.37 L310.42,125.87 L310.93,125.45 L311.45,125.16 L311.96,125.06 L312.47,125.27 L312.99,125.83 L313.50,126.66 L314.01,127.67 L314.52,128.76 L315.04,130.28 L315.55,132.38 L316.06,134.67 L316.58,136.74 L317.09,138.69 L317.60,140.66 L318.12,142.37 L318.63,143.52 L319.14,144.24 L319.65,144.81 L320.17,145.26 L320.68,145.58 L321.19,145.82 L321.71,146.01 L322.22,146.13 L322.73,146.20 L323.25,146.25 L323.76,146.28 L324.27,146.28 L324.78,146.19 L325.30,146.05 L325.81,145.89 L326.32,145.73 L326.84,145.54 L327.35,145.31 L327.86,145.04 L328.38,144.67 L328.89,144.25 L329.40,143.80 L329.91,143.37 L330.43,142.92 L330.94,142.44 L331.45,141.96 L331.97,141.52 L332.48,141.16 L332.99,140.82 L333.51,140.48 L334.02,140.16 L334.53,139.87 L335.05,139.63 L335.56,139.48 L336.07,139.42 L336.58,139.46 L337.10,139.56 L337.61,139.71 L338.12,139.90 L338.64,140.10 L339.15,140.33 L339.66,140.65 L340.18,141.05 L340.69,141.48 L341.20,141.91 L341.71,142.30 L342.23,142.69 L342.74,143.09 L343.25,143.48 L343.77,143.83 L344.28,144.15 L344.79,144.46 L345.31,144.75 L345.82,145.01 L346.33,145.24 L346.84,145.43 L347.36,145.61 L347.87,145.78 L348.38,145.85 L348.90,145.91 L349.41,145.96 L349.92,145.98 L350.44,145.99 L350.95,145.98 L351.46,145.97 L351.97,145.95 L352.49,145.93 L353.00,145.90 L353.51,145.87 L354.03,145.83 L354.54,145.78 L355.05,145.73 L355.56,145.67 L356.08,145.61 L356.59,145.55 L357.10,145.48 L357.62,145.42 L358.13,145.36 L358.64,145.29 L359.16,145.22 L359.67,145.15 L360.18,145.09 L360.69,145.02 L361.21,144.94 L361.72,144.87 L362.23,144.80 L362.75,144.72 L363.26,144.64 L363.77,144.64 L364.29,144.64 L364.80,144.63 L365.31,144.63 L365.82,144.62 L366.34,144.62 L366.85,144.61 L367.36,144.60 L367.88,144.59 L368.39,144.58 L368.90,144.57 L369.42,144.57 L369.93,144.56 L370.44,144.55 L370.96,144.54 L371.47,144.53 L371.98,144.52 L372.49,144.51 L373.01,144.50 L373.52,144.49 L374.03,144.48 L374.55,144.47 L375.06,144.46 L375.57,144.44 L376.09,144.43 L376.60,144.41 L377.11,144.40 L377.62,144.38 L378.14,144.36 L378.65,144.34 L379.16,144.32 L379.68,144.29 L380.19,144.26 L380.70,144.23 L381.22,144.19 L381.73,144.14 L382.24,144.10 L382.75,144.05 L383.27,144.00 L383.78,143.95 L384.29,143.90 L384.81,143.84 L385.32,143.79 L385.83,143.74 L386.35,143.69 L386.86,143.64 L387.37,143.58 L387.88,143.53 L388.40,143.47 L388.91,143.41 L389.42,143.35 L389.94,143.29 L390.45,143.22 L390.96,143.16 L391.48,143.10 L391.99,143.04 L392.50,142.98 L393.01,142.91 L393.53,142.85 L394.04,142.78 L394.55,142.72 L395.07,142.65 L395.58,142.59 L396.09,142.52 L396.61,142.46 L397.12,142.40 L397.63,142.35 L398.14,142.29 L398.66,142.24 L399.17,142.19 L399.68,142.13 L400.20,142.08 L400.71,142.02 L401.22,141.97 L401.74,141.92 L402.25,141.88 L402.76,141.85 L403.27,141.83 L403.79,141.82 L404.30,141.82 L404.81,141.82 L405.33,141.83 L405.84,141.84 L406.35,141.85 L406.87,141.87 L407.38,141.88 L407.89,141.89 L408.40,141.89 L408.92,141.89 L409.43,141.88 L409.94,141.87 L410.46,141.86 L410.97,141.83 L411.48,141.81 L412.00,141.79 L412.51,141.76 L413.02,141.74 L413.53,141.72 L414.05,141.70 L414.56,141.68 L415.07,141.66 L415.59,141.65 L416.10,141.63 L416.61,141.62 L417.12,141.60 L417.64,141.59 L418.15,141.58 L418.66,141.57 L419.18,141.56 L419.69,141.55 L420.20,141.55 L420.72,141.55 L421.23,141.56 L421.74,141.59 L422.25,141.62 L422.77,141.65 L423.28,141.70 L423.79,141.74 L424.31,141.78 L424.82,141.83 L425.33,141.87 L425.85,141.93 L426.36,141.98 L426.87,142.05 L427.38,142.11 L427.90,142.18 L428.41,142.24 L428.92,142.31 L429.44,142.37 L429.95,142.43 L430.46,142.48 L430.98,142.53 L431.49,142.58 L432.00,142.63 L432.51,142.68 L433.03,142.73 L433.54,142.77 L434.05,142.82 L434.57,142.86 L435.08,142.91 L435.59,142.96 L436.11,143.00 L436.62,143.05 L437.13,143.10 L437.64,143.14 L438.16,143.19 L438.67,143.23 L439.18,143.27 L439.70,143.31 L440.21,143.35 L440.72,143.39 L441.24,143.43 L441.75,143.46 L442.26,143.50 L442.77,143.53 L443.29,143.57 L443.80,143.60 L444.31,143.63 L444.83,143.67 L445.34,143.70 L445.85,143.74 L446.37,143.77 L446.88,143.80 L447.39,143.83 L447.90,143.86 L448.42,143.89 L448.93,143.91 L449.44,143.93 L449.96,143.96 L450.47,143.98 L450.98,144.00 L451.50,144.02 L452.01,144.04 L452.52,144.06 L453.04,144.08 L453.55,144.10 L454.06,144.12 L454.57,144.13 L455.09,144.15 L455.60,144.16" stroke="#5071aa" stroke-width="1.0" stroke-opacity="0.8" fill="none" stroke-linejoin="round"/>
<path d="M301.70,130.03 L302.21,129.46 L302.73,128.71 L303.24,127.82 L303.75,126.80 L304.26,125.70 L304.78,124.41 L305.29,122.86 L305.80,121.14 L306.32,119.33 L306.83,117.54 L307.34,115.57 L307.86,113.37 L308.37,111.21 L308.88,109.34 L309.39,108.00 L309.91,107.02 L310.42,106.11 L310.93,105.36 L311.45,104.84 L311.96,104.65 L312.47,105.01 L312.99,106.01 L313.50,107.50 L314.01,109.32 L314.52,111.32 L315.04,114.16 L315.55,118.13 L316.06,122.54 L316.58,126.59 L317.09,130.42 L317.60,134.33 L318.12,137.74 L318.63,140.05 L319.14,141.48 L319.65,142.63 L320.17,143.51 L320.68,144.16 L321.19,144.65 L321.71,145.03 L322.22,145.26 L322.73,145.40 L323.25,145.51 L323.76,145.57 L324.27,145.55 L324.78,145.37 L325.30,145.09 L325.81,144.79 L326.32,144.47 L326.84,144.08 L327.35,143.62 L327.86,143.07 L328.38,142.35 L328.89,141.51 L329.40,140.61 L329.91,139.74 L330.43,138.84 L330.94,137.88 L331.45,136.94 L331.97,136.06 L332.48,135.33 L332.99,134.66 L333.51,133.98 L334.02,133.34 L334.53,132.76 L335.05,132.30 L335.56,131.99 L336.07,131.87 L336.58,131.95 L337.10,132.15 L337.61,132.45 L338.12,132.82 L338.64,133.23 L339.15,133.68 L339.66,134.32 L340.18,135.11 L340.69,135.97 L341.20,136.82 L341.71,137.60 L342.23,138.39 L342.74,139.18 L343.25,139.96 L343.77,140.67 L344.28,141.31 L344.79,141.92 L345.31,142.50 L345.82,143.03 L346.33,143.49 L346.84,143.87 L347.36,144.22 L347.87,144.55 L348.38,144.78 L348.90,144.99 L349.41,145.15 L349.92,145.28 L350.44,145.37 L350.95,145.43 L351.46,145.48 L351.97,145.53 L352.49,145.56 L353.00,145.59 L353.51,145.60 L354.03,145.60 L354.54,145.59 L355.05,145.57 L355.56,145.53 L356.08,145.48 L356.59,145.44 L357.10,145.39 L357.62,145.34 L358.13,145.29 L358.64,145.24 L359.16,145.18 L359.67,145.13 L360.18,145.07 L360.69,145.00 L361.21,144.94 L361.72,144.87 L362.23,144.80 L362.75,144.73 L363.26,144.66 L363.77,144.65 L364.29,144.64 L364.80,144.64 L365.31,144.62 L365.82,144.61 L366.34,144.60 L366.85,144.58 L367.36,144.57 L367.88,144.55 L368.39,144.54 L368.90,144.52 L369.42,144.50 L369.93,144.48 L370.44,144.46 L370.96,144.44 L371.47,144.42 L371.98,144.41 L372.49,144.39 L373.01,144.37 L373.52,144.35 L374.03,144.33 L374.55,144.30 L375.06,144.28 L375.57,144.25 L376.09,144.23 L376.60,144.20 L377.11,144.16 L377.62,144.13 L378.14,144.09 L378.65,144.06 L379.16,144.01 L379.68,143.95 L380.19,143.89 L380.70,143.82 L381.22,143.74 L381.73,143.65 L382.24,143.56 L382.75,143.47 L383.27,143.37 L383.78,143.26 L384.29,143.16 L384.81,143.06 L385.32,142.95 L385.83,142.85 L386.35,142.74 L386.86,142.64 L387.37,142.53 L387.88,142.42 L388.40,142.30 L388.91,142.18 L389.42,142.06 L389.94,141.94 L390.45,141.81 L390.96,141.69 L391.48,141.57 L391.99,141.44 L392.50,141.32 L393.01,141.20 L393.53,141.07 L394.04,140.94 L394.55,140.80 L395.07,140.67 L395.58,140.54 L396.09,140.41 L396.61,140.29 L397.12,140.17 L397.63,140.06 L398.14,139.96 L398.66,139.85 L399.17,139.74 L399.68,139.63 L400.20,139.52 L400.71,139.41 L401.22,139.31 L401.74,139.22 L402.25,139.14 L402.76,139.08 L403.27,139.03 L403.79,139.01 L404.30,139.00 L404.81,139.01 L405.33,139.03 L405.84,139.05 L406.35,139.08 L406.87,139.10 L407.38,139.13 L407.89,139.14 L408.40,139.15 L408.92,139.15 L409.43,139.14 L409.94,139.12 L410.46,139.08 L410.97,139.04 L411.48,139.00 L412.00,138.95 L412.51,138.90 L413.02,138.85 L413.53,138.80 L414.05,138.76 L414.56,138.73 L415.07,138.70 L415.59,138.67 L416.10,138.64 L416.61,138.61 L417.12,138.58 L417.64,138.55 L418.15,138.53 L418.66,138.51 L419.18,138.49 L419.69,138.48 L420.20,138.47 L420.72,138.47 L421.23,138.50 L421.74,138.54 L422.25,138.61 L422.77,138.68 L423.28,138.76 L423.79,138.85 L424.31,138.94 L424.82,139.03 L425.33,139.12 L425.85,139.22 L426.36,139.34 L426.87,139.46 L427.38,139.59 L427.90,139.73 L428.41,139.86 L428.92,139.99 L429.44,140.11 L429.95,140.23 L430.46,140.34 L430.98,140.44 L431.49,140.54 L432.00,140.63 L432.51,140.73 L433.03,140.82 L433.54,140.91 L434.05,141.01 L434.57,141.10 L435.08,141.19 L435.59,141.28 L436.11,141.38 L436.62,141.47 L437.13,141.56 L437.64,141.65 L438.16,141.74 L438.67,141.83 L439.18,141.91 L439.70,141.99 L440.21,142.07 L440.72,142.15 L441.24,142.22 L441.75,142.29 L442.26,142.36 L442.77,142.43 L443.29,142.50 L443.80,142.57 L444.31,142.64 L444.83,142.70 L445.34,142.77 L445.85,142.84 L446.37,142.91 L446.88,142.97 L447.39,143.03 L447.90,143.09 L448.42,143.14 L448.93,143.19 L449.44,143.24 L449.96,143.28 L450.47,143.33 L450.98,143.37 L451.50,143.42 L452.01,143.46 L452.52,143.50 L453.04,143.53 L453.55,143.57 L454.06,143.60 L454.57,143.63 L455.09,143.66 L455.60,143.68" stroke="#d3844f" stroke-width="1.0" stroke-opacity="0.7" fill="none" stroke-linejoin="round"/>
<path d="M301.70,121.78 L302.21,120.95 L302.73,119.87 L303.24,118.57 L303.75,117.11 L304.26,115.53 L304.78,113.69 L305.29,111.50 L305.80,109.09 L306.32,106.60 L306.83,104.15 L307.34,101.51 L307.86,98.60 L308.37,95.81 L308.88,93.43 L309.39,91.75 L309.91,90.52 L310.42,89.39 L310.93,88.46 L311.45,87.82 L311.96,87.56 L312.47,87.97 L312.99,89.16 L313.50,90.96 L314.01,93.23 L314.52,95.77 L315.04,99.46 L315.55,104.81 L316.06,110.94 L316.58,116.72 L317.09,122.30 L317.60,128.06 L318.12,133.13 L318.63,136.58 L319.14,138.72 L319.65,140.44 L320.17,141.77 L320.68,142.73 L321.19,143.47 L321.71,144.04 L322.22,144.39 L322.73,144.60 L323.25,144.76 L323.76,144.85 L324.27,144.83 L324.78,144.56 L325.30,144.14 L325.81,143.68 L326.32,143.20 L326.84,142.62 L327.35,141.94 L327.86,141.11 L328.38,140.03 L328.89,138.76 L329.40,137.42 L329.91,136.11 L330.43,134.77 L330.94,133.35 L331.45,131.93 L331.97,130.63 L332.48,129.53 L332.99,128.55 L333.51,127.54 L334.02,126.58 L334.53,125.73 L335.05,125.04 L335.56,124.59 L336.07,124.42 L336.58,124.53 L337.10,124.83 L337.61,125.28 L338.12,125.82 L338.64,126.43 L339.15,127.09 L339.66,128.04 L340.18,129.22 L340.69,130.50 L341.20,131.76 L341.71,132.92 L342.23,134.10 L342.74,135.29 L343.25,136.44 L343.77,137.51 L344.28,138.47 L344.79,139.39 L345.31,140.25 L345.82,141.04 L346.33,141.73 L346.84,142.30 L347.36,142.83 L347.87,143.33 L348.38,143.71 L348.90,144.06 L349.41,144.35 L349.92,144.58 L350.44,144.76 L350.95,144.89 L351.46,145.00 L351.97,145.11 L352.49,145.20 L353.00,145.27 L353.51,145.33 L354.03,145.37 L354.54,145.40 L355.05,145.40 L355.56,145.38 L356.08,145.36 L356.59,145.33 L357.10,145.29 L357.62,145.26 L358.13,145.22 L358.64,145.18 L359.16,145.14 L359.67,145.09 L360.18,145.04 L360.69,144.99 L361.21,144.93 L361.72,144.87 L362.23,144.81 L362.75,144.74 L363.26,144.66 L363.77,144.66 L364.29,144.65 L364.80,144.63 L365.31,144.62 L365.82,144.60 L366.34,144.58 L366.85,144.56 L367.36,144.54 L367.88,144.51 L368.39,144.48 L368.90,144.46 L369.42,144.43 L369.93,144.40 L370.44,144.37 L370.96,144.35 L371.47,144.32 L371.98,144.29 L372.49,144.26 L373.01,144.23 L373.52,144.20 L374.03,144.17 L374.55,144.14 L375.06,144.10 L375.57,144.06 L376.09,144.02 L376.60,143.98 L377.11,143.93 L377.62,143.88 L378.14,143.82 L378.65,143.77 L379.16,143.70 L379.68,143.61 L380.19,143.52 L380.70,143.41 L381.22,143.29 L381.73,143.16 L382.24,143.02 L382.75,142.88 L383.27,142.73 L383.78,142.58 L384.29,142.42 L384.81,142.27 L385.32,142.11 L385.83,141.95 L386.35,141.80 L386.86,141.64 L387.37,141.48 L387.88,141.31 L388.40,141.14 L388.91,140.96 L389.42,140.78 L389.94,140.59 L390.45,140.41 L390.96,140.22 L391.48,140.03 L391.99,139.85 L392.50,139.67 L393.01,139.48 L393.53,139.29 L394.04,139.09 L394.55,138.89 L395.07,138.69 L395.58,138.50 L396.09,138.31 L396.61,138.12 L397.12,137.95 L397.63,137.78 L398.14,137.62 L398.66,137.47 L399.17,137.31 L399.68,137.14 L400.20,136.97 L400.71,136.81 L401.22,136.66 L401.74,136.52 L402.25,136.40 L402.76,136.31 L403.27,136.24 L403.79,136.20 L404.30,136.20 L404.81,136.21 L405.33,136.24 L405.84,136.27 L406.35,136.31 L406.87,136.35 L407.38,136.38 L407.89,136.41 L408.40,136.42 L408.92,136.42 L409.43,136.40 L409.94,136.37 L410.46,136.32 L410.97,136.26 L411.48,136.19 L412.00,136.11 L412.51,136.04 L413.02,135.97 L413.53,135.90 L414.05,135.84 L414.56,135.79 L415.07,135.75 L415.59,135.70 L416.10,135.66 L416.61,135.61 L417.12,135.57 L417.64,135.53 L418.15,135.49 L418.66,135.46 L419.18,135.43 L419.69,135.41 L420.20,135.40 L420.72,135.41 L421.23,135.44 L421.74,135.51 L422.25,135.60 L422.77,135.72 L423.28,135.84 L423.79,135.97 L424.31,136.11 L424.82,136.23 L425.33,136.37 L425.85,136.53 L426.36,136.70 L426.87,136.89 L427.38,137.08 L427.90,137.28 L428.41,137.48 L428.92,137.67 L429.44,137.86 L429.95,138.03 L430.46,138.19 L430.98,138.34 L431.49,138.49 L432.00,138.64 L432.51,138.78 L433.03,138.92 L433.54,139.06 L434.05,139.20 L434.57,139.33 L435.08,139.47 L435.59,139.61 L436.11,139.75 L436.62,139.89 L437.13,140.03 L437.64,140.16 L438.16,140.30 L438.67,140.43 L439.18,140.55 L439.70,140.67 L440.21,140.79 L440.72,140.90 L441.24,141.01 L441.75,141.12 L442.26,141.23 L442.77,141.33 L443.29,141.43 L443.80,141.54 L444.31,141.64 L444.83,141.74 L445.34,141.84 L445.85,141.94 L446.37,142.04 L446.88,142.14 L447.39,142.23 L447.90,142.32 L448.42,142.39 L448.93,142.47 L449.44,142.54 L449.96,142.61 L450.47,142.68 L450.98,142.74 L451.50,142.81 L452.01,142.87 L452.52,142.93 L453.04,142.98 L453.55,143.04 L454.06,143.08 L454.57,143.13 L455.09,143.17 L455.60,143.21" stroke="#a5a5a5" stroke-width="1.0" stroke-opacity="0.8" fill="none" stroke-linejoin="round"/>
<path d="M301.70,106.46 L302.21,105.22 L302.73,103.61 L303.24,101.72 L303.75,99.62 L304.26,97.40 L304.78,94.86 L305.29,91.93 L305.80,88.81 L306.32,85.70 L306.83,82.75 L307.34,79.69 L307.86,76.50 L308.37,73.57 L308.88,71.18 L309.39,69.52 L309.91,68.30 L310.42,67.20 L310.93,66.30 L311.45,65.66 L311.96,65.37 L312.47,65.65 L312.99,66.62 L313.50,68.19 L314.01,70.28 L314.52,72.76 L315.04,76.64 L315.55,82.80 L316.06,90.59 L316.58,98.61 L317.09,106.88 L317.60,115.86 L318.12,124.02 L318.63,129.69 L319.14,133.23 L319.65,136.08 L320.17,138.28 L320.68,139.89 L321.19,141.12 L321.71,142.07 L322.22,142.66 L322.73,143.00 L323.25,143.27 L323.76,143.42 L324.27,143.38 L324.78,142.93 L325.30,142.23 L325.81,141.47 L326.32,140.67 L326.84,139.70 L327.35,138.56 L327.86,137.19 L328.38,135.39 L328.89,133.29 L329.40,131.07 L329.91,128.91 L330.43,126.71 L330.94,124.37 L331.45,122.06 L331.97,119.95 L332.48,118.18 L332.99,116.60 L333.51,115.00 L334.02,113.48 L334.53,112.13 L335.05,111.05 L335.56,110.34 L336.07,110.08 L336.58,110.25 L337.10,110.71 L337.61,111.41 L338.12,112.27 L338.64,113.22 L339.15,114.27 L339.66,115.79 L340.18,117.67 L340.69,119.73 L341.20,121.77 L341.71,123.66 L342.23,125.60 L342.74,127.55 L343.25,129.45 L343.77,131.22 L344.28,132.81 L344.79,134.33 L345.31,135.77 L345.82,137.08 L346.33,138.22 L346.84,139.17 L347.36,140.05 L347.87,140.88 L348.38,141.58 L348.90,142.20 L349.41,142.74 L349.92,143.18 L350.44,143.52 L350.95,143.79 L351.46,144.04 L351.97,144.26 L352.49,144.47 L353.00,144.65 L353.51,144.80 L354.03,144.92 L354.54,145.01 L355.05,145.07 L355.56,145.09 L356.08,145.10 L356.59,145.10 L357.10,145.10 L357.62,145.09 L358.13,145.09 L358.64,145.07 L359.16,145.05 L359.67,145.03 L360.18,145.00 L360.69,144.96 L361.21,144.92 L361.72,144.87 L362.23,144.81 L362.75,144.75 L363.26,144.68 L363.77,144.67 L364.29,144.65 L364.80,144.63 L365.31,144.60 L365.82,144.57 L366.34,144.54 L366.85,144.50 L367.36,144.46 L367.88,144.42 L368.39,144.38 L368.90,144.33 L369.42,144.29 L369.93,144.24 L370.44,144.19 L370.96,144.15 L371.47,144.10 L371.98,144.05 L372.49,144.01 L373.01,143.96 L373.52,143.91 L374.03,143.85 L374.55,143.80 L375.06,143.74 L375.57,143.67 L376.09,143.61 L376.60,143.53 L377.11,143.45 L377.62,143.37 L378.14,143.28 L378.65,143.18 L379.16,143.07 L379.68,142.93 L380.19,142.77 L380.70,142.59 L381.22,142.39 L381.73,142.17 L382.24,141.95 L382.75,141.71 L383.27,141.46 L383.78,141.20 L384.29,140.94 L384.81,140.68 L385.32,140.42 L385.83,140.16 L386.35,139.91 L386.86,139.65 L387.37,139.38 L387.88,139.09 L388.40,138.80 L388.91,138.51 L389.42,138.20 L389.94,137.90 L390.45,137.59 L390.96,137.28 L391.48,136.97 L391.99,136.67 L392.50,136.36 L393.01,136.05 L393.53,135.73 L394.04,135.40 L394.55,135.08 L395.07,134.75 L395.58,134.42 L396.09,134.11 L396.61,133.80 L397.12,133.51 L397.63,133.23 L398.14,132.98 L398.66,132.72 L399.17,132.45 L399.68,132.18 L400.20,131.90 L400.71,131.63 L401.22,131.38 L401.74,131.16 L402.25,130.96 L402.76,130.80 L403.27,130.69 L403.79,130.63 L404.30,130.62 L404.81,130.65 L405.33,130.69 L405.84,130.75 L406.35,130.81 L406.87,130.87 L407.38,130.93 L407.89,130.97 L408.40,131.00 L408.92,130.99 L409.43,130.96 L409.94,130.90 L410.46,130.82 L410.97,130.72 L411.48,130.60 L412.00,130.48 L412.51,130.36 L413.02,130.24 L413.53,130.13 L414.05,130.03 L414.56,129.95 L415.07,129.88 L415.59,129.81 L416.10,129.73 L416.61,129.66 L417.12,129.59 L417.64,129.52 L418.15,129.46 L418.66,129.41 L419.18,129.36 L419.69,129.33 L420.20,129.32 L420.72,129.32 L421.23,129.38 L421.74,129.49 L422.25,129.65 L422.77,129.83 L423.28,130.03 L423.79,130.25 L424.31,130.47 L424.82,130.68 L425.33,130.91 L425.85,131.17 L426.36,131.45 L426.87,131.76 L427.38,132.08 L427.90,132.41 L428.41,132.73 L428.92,133.05 L429.44,133.36 L429.95,133.65 L430.46,133.92 L430.98,134.17 L431.49,134.42 L432.00,134.66 L432.51,134.89 L433.03,135.12 L433.54,135.35 L434.05,135.58 L434.57,135.81 L435.08,136.03 L435.59,136.26 L436.11,136.50 L436.62,136.73 L437.13,136.96 L437.64,137.18 L438.16,137.41 L438.67,137.62 L439.18,137.83 L439.70,138.03 L440.21,138.22 L440.72,138.41 L441.24,138.60 L441.75,138.78 L442.26,138.95 L442.77,139.13 L443.29,139.30 L443.80,139.47 L444.31,139.64 L444.83,139.81 L445.34,139.98 L445.85,140.15 L446.37,140.31 L446.88,140.47 L447.39,140.62 L447.90,140.77 L448.42,140.90 L448.93,141.02 L449.44,141.14 L449.96,141.25 L450.47,141.37 L450.98,141.48 L451.50,141.58 L452.01,141.69 L452.52,141.78 L453.04,141.88 L453.55,141.96 L454.06,142.05 L454.57,142.12 L455.09,142.19 L455.60,142.25" stroke="#ebbf39" stroke-width="1.0" stroke-opacity="0.75" fill="none" stroke-linejoin="round"/>
<path d="M301.70,79.08 L302.21,77.57 L302.73,75.72 L303.24,73.66 L303.75,71.49 L304.26,69.31 L304.78,67.00 L305.29,64.52 L305.80,62.11 L306.32,59.88 L306.83,57.91 L307.34,56.03 L307.86,54.21 L308.37,52.63 L308.88,51.37 L309.39,50.44 L309.91,49.73 L310.42,49.08 L310.93,48.53 L311.45,48.11 L311.96,47.83 L312.47,47.78 L312.99,47.98 L313.50,48.43 L314.01,49.14 L314.52,50.10 L315.04,51.85 L315.55,55.22 L316.06,60.59 L316.58,67.67 L317.09,76.88 L317.60,89.33 L318.12,102.74 L318.63,113.04 L319.14,119.75 L319.65,125.29 L320.17,129.63 L320.68,132.82 L321.19,135.25 L321.71,137.15 L322.22,138.32 L322.73,139.00 L323.25,139.54 L323.76,139.85 L324.27,139.76 L324.78,138.87 L325.30,137.47 L325.81,135.95 L326.32,134.36 L326.84,132.44 L327.35,130.18 L327.86,127.47 L328.38,123.94 L328.89,119.86 L329.40,115.61 L329.91,111.54 L330.43,107.48 L330.94,103.27 L331.45,99.24 L331.97,95.66 L332.48,92.75 L332.99,90.22 L333.51,87.73 L334.02,85.43 L334.53,83.44 L335.05,81.89 L335.56,80.88 L336.07,80.51 L336.58,80.73 L337.10,81.38 L337.61,82.35 L338.12,83.58 L338.64,84.97 L339.15,86.54 L339.66,88.87 L340.18,91.84 L340.69,95.22 L341.20,98.68 L341.71,101.97 L342.23,105.42 L342.74,108.99 L343.25,112.53 L343.77,115.87 L344.28,118.91 L344.79,121.85 L345.31,124.66 L345.82,127.24 L346.33,129.49 L346.84,131.37 L347.36,133.12 L347.87,134.77 L348.38,136.24 L348.90,137.57 L349.41,138.72 L349.92,139.68 L350.44,140.43 L350.95,141.04 L351.46,141.62 L351.97,142.15 L352.49,142.63 L353.00,143.06 L353.51,143.44 L354.03,143.76 L354.54,144.02 L355.05,144.22 L355.56,144.35 L356.08,144.44 L356.59,144.52 L357.10,144.59 L357.62,144.66 L358.13,144.72 L358.64,144.77 L359.16,144.81 L359.67,144.84 L360.18,144.85 L360.69,144.86 L361.21,144.85 L361.72,144.83 L362.23,144.79 L362.75,144.74 L363.26,144.68 L363.77,144.66 L364.29,144.62 L364.80,144.58 L365.31,144.53 L365.82,144.47 L366.34,144.40 L366.85,144.33 L367.36,144.25 L367.88,144.17 L368.39,144.08 L368.90,143.99 L369.42,143.90 L369.93,143.80 L370.44,143.71 L370.96,143.62 L371.47,143.52 L371.98,143.43 L372.49,143.34 L373.01,143.24 L373.52,143.14 L374.03,143.03 L374.55,142.92 L375.06,142.80 L375.57,142.67 L376.09,142.53 L376.60,142.39 L377.11,142.23 L377.62,142.06 L378.14,141.88 L378.65,141.69 L379.16,141.46 L379.68,141.18 L380.19,140.86 L380.70,140.50 L381.22,140.10 L381.73,139.67 L382.24,139.22 L382.75,138.74 L383.27,138.25 L383.78,137.74 L384.29,137.22 L384.81,136.70 L385.32,136.18 L385.83,135.67 L386.35,135.16 L386.86,134.65 L387.37,134.11 L387.88,133.55 L388.40,132.98 L388.91,132.39 L389.42,131.79 L389.94,131.18 L390.45,130.58 L390.96,129.97 L391.48,129.36 L391.99,128.76 L392.50,128.17 L393.01,127.55 L393.53,126.93 L394.04,126.29 L394.55,125.65 L395.07,125.01 L395.58,124.38 L396.09,123.77 L396.61,123.18 L397.12,122.61 L397.63,122.08 L398.14,121.58 L398.66,121.09 L399.17,120.57 L399.68,120.04 L400.20,119.51 L400.71,119.00 L401.22,118.53 L401.74,118.09 L402.25,117.72 L402.76,117.42 L403.27,117.20 L403.79,117.09 L404.30,117.08 L404.81,117.13 L405.33,117.21 L405.84,117.32 L406.35,117.43 L406.87,117.55 L407.38,117.66 L407.89,117.74 L408.40,117.79 L408.92,117.78 L409.43,117.72 L409.94,117.61 L410.46,117.45 L410.97,117.26 L411.48,117.04 L412.00,116.82 L412.51,116.58 L413.02,116.36 L413.53,116.15 L414.05,115.96 L414.56,115.81 L415.07,115.68 L415.59,115.54 L416.10,115.40 L416.61,115.26 L417.12,115.12 L417.64,114.99 L418.15,114.88 L418.66,114.78 L419.18,114.70 L419.69,114.65 L420.20,114.62 L420.72,114.63 L421.23,114.74 L421.74,114.95 L422.25,115.23 L422.77,115.58 L423.28,115.96 L423.79,116.37 L424.31,116.79 L424.82,117.19 L425.33,117.62 L425.85,118.11 L426.36,118.66 L426.87,119.24 L427.38,119.85 L427.90,120.48 L428.41,121.11 L428.92,121.73 L429.44,122.32 L429.95,122.88 L430.46,123.39 L430.98,123.88 L431.49,124.36 L432.00,124.83 L432.51,125.29 L433.03,125.74 L433.54,126.18 L434.05,126.63 L434.57,127.07 L435.08,127.52 L435.59,127.97 L436.11,128.42 L436.62,128.88 L437.13,129.33 L437.64,129.78 L438.16,130.21 L438.67,130.64 L439.18,131.05 L439.70,131.44 L440.21,131.83 L440.72,132.20 L441.24,132.56 L441.75,132.92 L442.26,133.27 L442.77,133.61 L443.29,133.95 L443.80,134.29 L444.31,134.62 L444.83,134.96 L445.34,135.30 L445.85,135.64 L446.37,135.97 L446.88,136.28 L447.39,136.59 L447.90,136.87 L448.42,137.13 L448.93,137.37 L449.44,137.61 L449.96,137.84 L450.47,138.06 L450.98,138.28 L451.50,138.50 L452.01,138.70 L452.52,138.90 L453.04,139.08 L453.55,139.26 L454.06,139.42 L454.57,139.57 L455.09,139.71 L455.60,139.83" stroke="#6a97c0" stroke-width="1.0" stroke-opacity="0.75" fill="none" stroke-linejoin="round"/>
<path d="M301.70,59.74 L302.21,58.64 L302.73,57.44 L303.24,56.20 L303.75,54.97 L304.26,53.78 L304.78,52.59 L305.29,51.41 L305.80,50.31 L306.32,49.31 L306.83,48.43 L307.34,47.60 L307.86,46.80 L308.37,46.09 L308.88,45.46 L309.39,44.93 L309.91,44.46 L310.42,44.03 L310.93,43.65 L311.45,43.33 L311.96,43.06 L312.47,42.87 L312.99,42.74 L313.50,42.67 L314.01,42.67 L314.52,42.73 L315.04,43.00 L315.55,43.73 L316.06,45.17 L316.58,47.54 L317.09,51.61 L317.60,59.43 L318.12,71.93 L318.63,85.11 L319.14,95.47 L319.65,104.97 L320.17,112.91 L320.68,118.96 L321.19,123.66 L321.71,127.39 L322.22,129.69 L322.73,131.05 L323.25,132.12 L323.76,132.73 L324.27,132.56 L324.78,130.79 L325.30,128.02 L325.81,125.04 L326.32,121.93 L326.84,118.22 L327.35,113.92 L327.86,108.88 L328.38,102.52 L328.89,95.54 L329.40,88.73 L329.91,82.69 L330.43,77.16 L330.94,71.95 L331.45,67.45 L331.97,63.83 L332.48,61.13 L332.99,58.95 L333.51,56.94 L334.02,55.21 L334.53,53.79 L335.05,52.73 L335.56,52.05 L336.07,51.78 L336.58,51.88 L337.10,52.25 L337.61,52.85 L338.12,53.64 L338.64,54.58 L339.15,55.69 L339.66,57.47 L340.18,59.93 L340.69,63.00 L341.20,66.47 L341.71,70.08 L342.23,74.22 L342.74,78.88 L343.25,83.88 L343.77,88.95 L344.28,93.83 L344.79,98.79 L345.31,103.73 L345.82,108.41 L346.33,112.60 L346.84,116.16 L347.36,119.52 L347.87,122.72 L348.38,125.67 L348.90,128.35 L349.41,130.70 L349.92,132.68 L350.44,134.24 L350.95,135.54 L351.46,136.75 L351.97,137.89 L352.49,138.92 L353.00,139.86 L353.51,140.69 L354.03,141.40 L354.54,141.99 L355.05,142.45 L355.56,142.78 L356.08,143.03 L356.59,143.27 L357.10,143.49 L357.62,143.70 L358.13,143.89 L358.64,144.06 L359.16,144.21 L359.67,144.34 L360.18,144.45 L360.69,144.53 L361.21,144.59 L361.72,144.62 L362.23,144.62 L362.75,144.59 L363.26,144.54 L363.77,144.49 L364.29,144.43 L364.80,144.34 L365.31,144.24 L365.82,144.12 L366.34,143.98 L366.85,143.84 L367.36,143.68 L367.88,143.51 L368.39,143.34 L368.90,143.16 L369.42,142.98 L369.93,142.79 L370.44,142.60 L370.96,142.41 L371.47,142.23 L371.98,142.04 L372.49,141.86 L373.01,141.66 L373.52,141.46 L374.03,141.25 L374.55,141.02 L375.06,140.78 L375.57,140.53 L376.09,140.25 L376.60,139.96 L377.11,139.65 L377.62,139.31 L378.14,138.95 L378.65,138.56 L379.16,138.11 L379.68,137.56 L380.19,136.92 L380.70,136.20 L381.22,135.42 L381.73,134.57 L382.24,133.67 L382.75,132.73 L383.27,131.75 L383.78,130.75 L384.29,129.74 L384.81,128.72 L385.32,127.70 L385.83,126.69 L386.35,125.70 L386.86,124.70 L387.37,123.66 L387.88,122.59 L388.40,121.48 L388.91,120.36 L389.42,119.22 L389.94,118.07 L390.45,116.92 L390.96,115.77 L391.48,114.63 L391.99,113.51 L392.50,112.41 L393.01,111.27 L393.53,110.12 L394.04,108.95 L394.55,107.79 L395.07,106.64 L395.58,105.51 L396.09,104.41 L396.61,103.36 L397.12,102.36 L397.63,101.42 L398.14,100.56 L398.66,99.70 L399.17,98.81 L399.68,97.90 L400.20,97.00 L400.71,96.14 L401.22,95.34 L401.74,94.62 L402.25,94.00 L402.76,93.50 L403.27,93.14 L403.79,92.96 L404.30,92.94 L404.81,93.02 L405.33,93.15 L405.84,93.33 L406.35,93.52 L406.87,93.72 L407.38,93.89 L407.89,94.03 L408.40,94.10 L408.92,94.10 L409.43,94.00 L409.94,93.81 L410.46,93.55 L410.97,93.23 L411.48,92.88 L412.00,92.51 L412.51,92.13 L413.02,91.76 L413.53,91.42 L414.05,91.12 L414.56,90.87 L415.07,90.66 L415.59,90.43 L416.10,90.20 L416.61,89.98 L417.12,89.76 L417.64,89.56 L418.15,89.38 L418.66,89.22 L419.18,89.09 L419.69,89.00 L420.20,88.96 L420.72,88.97 L421.23,89.15 L421.74,89.48 L422.25,89.94 L422.77,90.49 L423.28,91.12 L423.79,91.78 L424.31,92.46 L424.82,93.13 L425.33,93.83 L425.85,94.65 L426.36,95.56 L426.87,96.54 L427.38,97.58 L427.90,98.65 L428.41,99.73 L428.92,100.80 L429.44,101.84 L429.95,102.82 L430.46,103.72 L430.98,104.60 L431.49,105.45 L432.00,106.28 L432.51,107.11 L433.03,107.92 L433.54,108.73 L434.05,109.54 L434.57,110.36 L435.08,111.18 L435.59,112.02 L436.11,112.86 L436.62,113.70 L437.13,114.55 L437.64,115.38 L438.16,116.20 L438.67,117.01 L439.18,117.79 L439.70,118.53 L440.21,119.26 L440.72,119.98 L441.24,120.67 L441.75,121.35 L442.26,122.03 L442.77,122.69 L443.29,123.34 L443.80,123.99 L444.31,124.64 L444.83,125.30 L445.34,125.96 L445.85,126.62 L446.37,127.26 L446.88,127.88 L447.39,128.47 L447.90,129.03 L448.42,129.53 L448.93,130.01 L449.44,130.48 L449.96,130.93 L450.47,131.38 L450.98,131.81 L451.50,132.23 L452.01,132.64 L452.52,133.02 L453.04,133.39 L453.55,133.73 L454.06,134.06 L454.57,134.35 L455.09,134.63 L455.60,134.88" stroke="#79a45d" stroke-width="1.0" stroke-opacity="0.75" fill="none" stroke-linejoin="round"/>
<path d="M301.70,55.19 L302.21,54.30 L302.73,53.37 L303.24,52.44 L303.75,51.53 L304.26,50.66 L304.78,49.81 L305.29,48.98 L305.80,48.20 L306.32,47.48 L306.83,46.83 L307.34,46.21 L307.86,45.62 L308.37,45.06 L308.88,44.55 L309.39,44.09 L309.91,43.66 L310.42,43.27 L310.93,42.92 L311.45,42.61 L311.96,42.35 L312.47,42.13 L312.99,41.94 L313.50,41.78 L314.01,41.66 L314.52,41.56 L315.04,41.55 L315.55,41.73 L316.06,42.19 L316.58,43.08 L317.09,44.79 L317.60,48.65 L318.12,56.35 L318.63,66.83 L319.14,76.96 L319.65,87.74 L320.17,97.76 L320.68,105.91 L321.19,112.52 L321.71,117.87 L322.22,121.22 L322.73,123.22 L323.25,124.79 L323.76,125.69 L324.27,125.43 L324.78,122.83 L325.30,118.79 L325.81,114.48 L326.32,110.04 L326.84,104.87 L327.35,99.04 L327.86,92.47 L328.38,84.66 L328.89,76.76 L329.40,69.76 L329.91,64.14 L330.43,59.47 L330.94,55.48 L331.45,52.31 L331.97,49.94 L332.48,48.28 L332.99,46.98 L333.51,45.83 L334.02,44.86 L334.53,44.08 L335.05,43.50 L335.56,43.12 L336.07,42.95 L336.58,42.95 L337.10,43.10 L337.61,43.36 L338.12,43.73 L338.64,44.18 L339.15,44.74 L339.66,45.68 L340.18,47.06 L340.69,48.90 L341.20,51.11 L341.71,53.59 L342.23,56.65 L342.74,60.39 L343.25,64.77 L343.77,69.59 L344.28,74.61 L344.79,80.10 L345.31,85.91 L345.82,91.73 L346.33,97.18 L346.84,101.97 L347.36,106.61 L347.87,111.12 L348.38,115.38 L348.90,119.29 L349.41,122.77 L349.92,125.72 L350.44,128.06 L350.95,130.02 L351.46,131.87 L351.97,133.59 L352.49,135.17 L353.00,136.60 L353.51,137.86 L354.03,138.96 L354.54,139.88 L355.05,140.60 L355.56,141.12 L356.08,141.53 L356.59,141.92 L357.10,142.28 L357.62,142.62 L358.13,142.94 L358.64,143.23 L359.16,143.48 L359.67,143.71 L360.18,143.90 L360.69,144.05 L361.21,144.16 L361.72,144.24 L362.23,144.27 L362.75,144.26 L363.26,144.21 L363.77,144.14 L364.29,144.04 L364.80,143.91 L365.31,143.76 L365.82,143.58 L366.34,143.38 L366.85,143.16 L367.36,142.92 L367.88,142.67 L368.39,142.41 L368.90,142.14 L369.42,141.86 L369.93,141.58 L370.44,141.30 L370.96,141.02 L371.47,140.74 L371.98,140.47 L372.49,140.19 L373.01,139.90 L373.52,139.60 L374.03,139.28 L374.55,138.94 L375.06,138.58 L375.57,138.20 L376.09,137.79 L376.60,137.36 L377.11,136.89 L377.62,136.39 L378.14,135.85 L378.65,135.27 L379.16,134.60 L379.68,133.78 L380.19,132.83 L380.70,131.77 L381.22,130.60 L381.73,129.35 L382.24,128.02 L382.75,126.63 L383.27,125.20 L383.78,123.74 L384.29,122.27 L384.81,120.78 L385.32,119.31 L385.83,117.86 L386.35,116.44 L386.86,115.02 L387.37,113.54 L387.88,112.02 L388.40,110.46 L388.91,108.89 L389.42,107.30 L389.94,105.71 L390.45,104.13 L390.96,102.56 L391.48,101.02 L391.99,99.51 L392.50,98.03 L393.01,96.53 L393.53,95.01 L394.04,93.48 L394.55,91.97 L395.07,90.49 L395.58,89.05 L396.09,87.66 L396.61,86.34 L397.12,85.10 L397.63,83.94 L398.14,82.88 L398.66,81.84 L399.17,80.76 L399.68,79.67 L400.20,78.61 L400.71,77.59 L401.22,76.66 L401.74,75.82 L402.25,75.11 L402.76,74.54 L403.27,74.13 L403.79,73.92 L404.30,73.91 L404.81,73.99 L405.33,74.15 L405.84,74.34 L406.35,74.56 L406.87,74.79 L407.38,74.99 L407.89,75.14 L408.40,75.23 L408.92,75.23 L409.43,75.11 L409.94,74.89 L410.46,74.59 L410.97,74.23 L411.48,73.83 L412.00,73.41 L412.51,72.98 L413.02,72.57 L413.53,72.19 L414.05,71.85 L414.56,71.58 L415.07,71.34 L415.59,71.09 L416.10,70.84 L416.61,70.59 L417.12,70.35 L417.64,70.13 L418.15,69.93 L418.66,69.76 L419.18,69.62 L419.69,69.52 L420.20,69.47 L420.72,69.49 L421.23,69.68 L421.74,70.04 L422.25,70.55 L422.77,71.16 L423.28,71.85 L423.79,72.60 L424.31,73.36 L424.82,74.11 L425.33,74.92 L425.85,75.86 L426.36,76.91 L426.87,78.06 L427.38,79.28 L427.90,80.55 L428.41,81.85 L428.92,83.15 L429.44,84.42 L429.95,85.63 L430.46,86.76 L430.98,87.85 L431.49,88.93 L432.00,89.99 L432.51,91.04 L433.03,92.09 L433.54,93.14 L434.05,94.20 L434.57,95.26 L435.08,96.35 L435.59,97.45 L436.11,98.57 L436.62,99.71 L437.13,100.84 L437.64,101.98 L438.16,103.10 L438.67,104.19 L439.18,105.26 L439.70,106.30 L440.21,107.31 L440.72,108.30 L441.24,109.27 L441.75,110.23 L442.26,111.18 L442.77,112.11 L443.29,113.04 L443.80,113.97 L444.31,114.89 L444.83,115.83 L445.34,116.78 L445.85,117.72 L446.37,118.65 L446.88,119.55 L447.39,120.41 L447.90,121.21 L448.42,121.94 L448.93,122.64 L449.44,123.32 L449.96,123.99 L450.47,124.64 L450.98,125.28 L451.50,125.89 L452.01,126.49 L452.52,127.05 L453.04,127.59 L453.55,128.10 L454.06,128.58 L454.57,129.02 L455.09,129.43 L455.60,129.79" stroke="#2e4367" stroke-width="1.15" stroke-opacity="0.9" fill="none" stroke-linejoin="round"/>
<path d="M301.70,53.70 L302.21,52.88 L302.73,52.05 L303.24,51.24 L303.75,50.44 L304.26,49.68 L304.78,48.94 L305.29,48.22 L305.80,47.55 L306.32,46.92 L306.83,46.35 L307.34,45.80 L307.86,45.26 L308.37,44.76 L308.88,44.28 L309.39,43.83 L309.91,43.42 L310.42,43.04 L310.93,42.70 L311.45,42.39 L311.96,42.13 L312.47,41.91 L312.99,41.70 L313.50,41.52 L314.01,41.36 L314.52,41.21 L315.04,41.12 L315.55,41.11 L316.06,41.26 L316.58,41.63 L317.09,42.45 L317.60,44.48 L318.12,49.05 L318.63,56.28 L319.14,64.44 L319.65,74.42 L320.17,84.89 L320.68,94.15 L321.19,102.09 L321.71,108.76 L322.22,113.02 L322.73,115.58 L323.25,117.62 L323.76,118.79 L324.27,118.45 L324.78,115.09 L325.30,109.91 L325.81,104.49 L326.32,99.04 L326.84,92.88 L327.35,86.20 L327.86,79.07 L328.38,71.18 L328.89,63.87 L329.40,57.97 L329.91,53.62 L330.43,50.26 L330.94,47.55 L331.45,45.50 L331.97,44.03 L332.48,43.01 L332.99,42.22 L333.51,41.53 L334.02,40.96 L334.53,40.49 L335.05,40.14 L335.56,39.90 L336.07,39.76 L336.58,39.73 L337.10,39.77 L337.61,39.88 L338.12,40.05 L338.64,40.27 L339.15,40.55 L339.66,41.05 L340.18,41.81 L340.69,42.87 L341.20,44.19 L341.71,45.74 L342.23,47.74 L342.74,50.32 L343.25,53.54 L343.77,57.33 L344.28,61.55 L344.79,66.48 L345.31,72.07 L345.82,78.04 L346.33,83.94 L346.84,89.37 L347.36,94.82 L347.87,100.28 L348.38,105.58 L348.90,110.55 L349.41,115.03 L349.92,118.87 L350.44,121.94 L350.95,124.53 L351.46,126.98 L351.97,129.26 L352.49,131.37 L353.00,133.28 L353.51,134.98 L354.03,136.45 L354.54,137.69 L355.05,138.67 L355.56,139.37 L356.08,139.93 L356.59,140.46 L357.10,140.96 L357.62,141.43 L358.13,141.86 L358.64,142.26 L359.16,142.61 L359.67,142.92 L360.18,143.19 L360.69,143.41 L361.21,143.58 L361.72,143.69 L362.23,143.74 L362.75,143.74 L363.26,143.69 L363.77,143.60 L364.29,143.46 L364.80,143.29 L365.31,143.09 L365.82,142.85 L366.34,142.58 L366.85,142.29 L367.36,141.97 L367.88,141.64 L368.39,141.29 L368.90,140.93 L369.42,140.57 L369.93,140.19 L370.44,139.82 L370.96,139.44 L371.47,139.07 L371.98,138.71 L372.49,138.34 L373.01,137.95 L373.52,137.55 L374.03,137.13 L374.55,136.68 L375.06,136.21 L375.57,135.70 L376.09,135.16 L376.60,134.58 L377.11,133.96 L377.62,133.30 L378.14,132.59 L378.65,131.82 L379.16,130.93 L379.68,129.85 L380.19,128.61 L380.70,127.21 L381.22,125.68 L381.73,124.05 L382.24,122.32 L382.75,120.52 L383.27,118.67 L383.78,116.79 L384.29,114.90 L384.81,113.01 L385.32,111.14 L385.83,109.31 L386.35,107.53 L386.86,105.75 L387.37,103.92 L387.88,102.04 L388.40,100.14 L388.91,98.22 L389.42,96.30 L389.94,94.40 L390.45,92.51 L390.96,90.67 L391.48,88.86 L391.99,87.11 L392.50,85.40 L393.01,83.68 L393.53,81.96 L394.04,80.25 L394.55,78.57 L395.07,76.94 L395.58,75.36 L396.09,73.86 L396.61,72.44 L397.12,71.12 L397.63,69.90 L398.14,68.79 L398.66,67.71 L399.17,66.59 L399.68,65.48 L400.20,64.40 L400.71,63.38 L401.22,62.45 L401.74,61.62 L402.25,60.92 L402.76,60.37 L403.27,59.98 L403.79,59.77 L404.30,59.76 L404.81,59.84 L405.33,59.99 L405.84,60.18 L406.35,60.40 L406.87,60.61 L407.38,60.81 L407.89,60.96 L408.40,61.05 L408.92,61.04 L409.43,60.93 L409.94,60.72 L410.46,60.42 L410.97,60.08 L411.48,59.69 L412.00,59.28 L412.51,58.87 L413.02,58.47 L413.53,58.10 L414.05,57.78 L414.56,57.53 L415.07,57.30 L415.59,57.06 L416.10,56.82 L416.61,56.59 L417.12,56.36 L417.64,56.15 L418.15,55.97 L418.66,55.80 L419.18,55.68 L419.69,55.58 L420.20,55.54 L420.72,55.55 L421.23,55.74 L421.74,56.08 L422.25,56.55 L422.77,57.13 L423.28,57.79 L423.79,58.50 L424.31,59.23 L424.82,59.96 L425.33,60.74 L425.85,61.66 L426.36,62.70 L426.87,63.84 L427.38,65.07 L427.90,66.36 L428.41,67.70 L428.92,69.04 L429.44,70.36 L429.95,71.64 L430.46,72.83 L430.98,74.00 L431.49,75.16 L432.00,76.31 L432.51,77.47 L433.03,78.62 L433.54,79.78 L434.05,80.96 L434.57,82.16 L435.08,83.38 L435.59,84.64 L436.11,85.93 L436.62,87.24 L437.13,88.56 L437.64,89.88 L438.16,91.19 L438.67,92.49 L439.18,93.77 L439.70,95.01 L440.21,96.22 L440.72,97.42 L441.24,98.60 L441.75,99.77 L442.26,100.93 L442.77,102.08 L443.29,103.23 L443.80,104.37 L444.31,105.53 L444.83,106.70 L445.34,107.89 L445.85,109.08 L446.37,110.25 L446.88,111.39 L447.39,112.48 L447.90,113.50 L448.42,114.45 L448.93,115.33 L449.44,116.21 L449.96,117.07 L450.47,117.92 L450.98,118.74 L451.50,119.53 L452.01,120.30 L452.52,121.04 L453.04,121.74 L453.55,122.40 L454.06,123.02 L454.57,123.60 L455.09,124.13 L455.60,124.61" stroke="#8a4e25" stroke-width="1.1" stroke-opacity="0.85" fill="none" stroke-linejoin="round"/>
<path d="M301.70,53.07 L302.21,52.28 L302.73,51.50 L303.24,50.73 L303.75,49.98 L304.26,49.27 L304.78,48.58 L305.29,47.91 L305.80,47.28 L306.32,46.69 L306.83,46.15 L307.34,45.63 L307.86,45.12 L308.37,44.63 L308.88,44.17 L309.39,43.73 L309.91,43.33 L310.42,42.95 L310.93,42.61 L311.45,42.31 L311.96,42.05 L312.47,41.82 L312.99,41.61 L313.50,41.41 L314.01,41.23 L314.52,41.07 L315.04,40.94 L315.55,40.86 L316.06,40.88 L316.58,41.03 L317.09,41.45 L317.60,42.61 L318.12,45.43 L318.63,50.32 L319.14,56.43 L319.65,64.78 L320.17,74.54 L320.68,83.99 L321.19,92.63 L321.71,100.22 L322.22,105.21 L322.73,108.25 L323.25,110.68 L323.76,112.09 L324.27,111.69 L324.78,107.65 L325.30,101.54 L325.81,95.30 L326.32,89.21 L326.84,82.56 L327.35,75.69 L327.86,68.76 L328.38,61.63 L328.89,55.52 L329.40,50.94 L329.91,47.75 L330.43,45.39 L330.94,43.55 L331.45,42.20 L331.97,41.23 L332.48,40.56 L332.99,40.05 L333.51,39.60 L334.02,39.21 L334.53,38.90 L335.05,38.66 L335.56,38.48 L336.07,38.37 L336.58,38.32 L337.10,38.31 L337.61,38.35 L338.12,38.42 L338.64,38.52 L339.15,38.66 L339.66,38.94 L340.18,39.38 L340.69,40.02 L341.20,40.83 L341.71,41.81 L342.23,43.11 L342.74,44.85 L343.25,47.11 L343.77,49.90 L344.28,53.15 L344.79,57.17 L345.31,61.99 L345.82,67.45 L346.33,73.17 L346.84,78.68 L347.36,84.45 L347.87,90.45 L348.38,96.45 L348.90,102.23 L349.41,107.55 L349.92,112.17 L350.44,115.91 L350.95,119.09 L351.46,122.10 L351.97,124.93 L352.49,127.54 L353.00,129.92 L353.51,132.04 L354.03,133.88 L354.54,135.42 L355.05,136.64 L355.56,137.53 L356.08,138.23 L356.59,138.89 L357.10,139.52 L357.62,140.11 L358.13,140.66 L358.64,141.15 L359.16,141.60 L359.67,142.00 L360.18,142.33 L360.69,142.61 L361.21,142.82 L361.72,142.97 L362.23,143.04 L362.75,143.04 L363.26,142.98 L363.77,142.87 L364.29,142.70 L364.80,142.48 L365.31,142.23 L365.82,141.93 L366.34,141.59 L366.85,141.23 L367.36,140.84 L367.88,140.42 L368.39,139.99 L368.90,139.54 L369.42,139.08 L369.93,138.62 L370.44,138.15 L370.96,137.68 L371.47,137.22 L371.98,136.77 L372.49,136.31 L373.01,135.83 L373.52,135.33 L374.03,134.80 L374.55,134.24 L375.06,133.65 L375.57,133.03 L376.09,132.36 L376.60,131.64 L377.11,130.87 L377.62,130.05 L378.14,129.17 L378.65,128.23 L379.16,127.13 L379.68,125.80 L380.19,124.27 L380.70,122.56 L381.22,120.69 L381.73,118.70 L382.24,116.60 L382.75,114.43 L383.27,112.21 L383.78,109.96 L384.29,107.71 L384.81,105.48 L385.32,103.28 L385.83,101.14 L386.35,99.08 L386.86,97.02 L387.37,94.92 L387.88,92.79 L388.40,90.64 L388.91,88.49 L389.42,86.36 L389.94,84.26 L390.45,82.20 L390.96,80.19 L391.48,78.25 L391.99,76.39 L392.50,74.58 L393.01,72.78 L393.53,70.99 L394.04,69.23 L394.55,67.52 L395.07,65.86 L395.58,64.29 L396.09,62.79 L396.61,61.40 L397.12,60.10 L397.63,58.91 L398.14,57.84 L398.66,56.80 L399.17,55.75 L399.68,54.70 L400.20,53.69 L400.71,52.75 L401.22,51.89 L401.74,51.13 L402.25,50.50 L402.76,50.00 L403.27,49.64 L403.79,49.46 L404.30,49.45 L404.81,49.52 L405.33,49.65 L405.84,49.83 L406.35,50.02 L406.87,50.22 L407.38,50.39 L407.89,50.53 L408.40,50.61 L408.92,50.61 L409.43,50.50 L409.94,50.31 L410.46,50.05 L410.97,49.73 L411.48,49.38 L412.00,49.02 L412.51,48.65 L413.02,48.29 L413.53,47.97 L414.05,47.69 L414.56,47.46 L415.07,47.26 L415.59,47.05 L416.10,46.84 L416.61,46.63 L417.12,46.43 L417.64,46.25 L418.15,46.09 L418.66,45.94 L419.18,45.83 L419.69,45.75 L420.20,45.71 L420.72,45.73 L421.23,45.89 L421.74,46.18 L422.25,46.60 L422.77,47.10 L423.28,47.69 L423.79,48.32 L424.31,48.98 L424.82,49.63 L425.33,50.33 L425.85,51.17 L426.36,52.11 L426.87,53.17 L427.38,54.30 L427.90,55.51 L428.41,56.77 L428.92,58.04 L429.44,59.31 L429.95,60.54 L430.46,61.70 L430.98,62.85 L431.49,64.00 L432.00,65.14 L432.51,66.30 L433.03,67.46 L433.54,68.64 L434.05,69.84 L434.57,71.07 L435.08,72.34 L435.59,73.66 L436.11,75.01 L436.62,76.39 L437.13,77.79 L437.64,79.21 L438.16,80.63 L438.67,82.04 L439.18,83.43 L439.70,84.79 L440.21,86.14 L440.72,87.47 L441.24,88.79 L441.75,90.10 L442.26,91.41 L442.77,92.71 L443.29,94.02 L443.80,95.33 L444.31,96.66 L444.83,98.02 L445.34,99.40 L445.85,100.78 L446.37,102.15 L446.88,103.49 L447.39,104.77 L447.90,105.99 L448.42,107.10 L448.93,108.16 L449.44,109.21 L449.96,110.24 L450.47,111.25 L450.98,112.23 L451.50,113.19 L452.01,114.12 L452.52,115.01 L453.04,115.86 L453.55,116.67 L454.06,117.42 L454.57,118.12 L455.09,118.77 L455.60,119.35" stroke="#636363" stroke-width="1.25" stroke-opacity="0.95" fill="none" stroke-linejoin="round"/>
<line x1="467.20" y1="24.00" x2="489.60" y2="24.00" stroke="#57709d" stroke-width="0.9" stroke-opacity="0.85"/>
<text x="492.00" y="26.40" font-size="9.9" text-anchor="start" fill="#1e1e1e" textLength="26.40" lengthAdjust="spacingAndGlyphs" stroke="#1e1e1e" stroke-width="0.33" >0.02M</text>
<line x1="467.20" y1="42.30" x2="489.60" y2="42.30" stroke="#c6885e" stroke-width="0.9" stroke-opacity="0.85"/>
<text x="492.00" y="44.70" font-size="9.9" text-anchor="start" fill="#1e1e1e" textLength="26.40" lengthAdjust="spacingAndGlyphs" stroke="#1e1e1e" stroke-width="0.33" >0.04M</text>
<line x1="467.20" y1="60.60" x2="489.60" y2="60.60" stroke="#a5a5a5" stroke-width="0.9" stroke-opacity="0.85"/>
<text x="492.00" y="63.00" font-size="9.9" text-anchor="start" fill="#1e1e1e" textLength="26.40" lengthAdjust="spacingAndGlyphs" stroke="#1e1e1e" stroke-width="0.33" >0.06M</text>
<line x1="467.20" y1="78.90" x2="489.60" y2="78.90" stroke="#e1bf55" stroke-width="0.9" stroke-opacity="0.85"/>
<text x="492.00" y="81.30" font-size="9.9" text-anchor="start" fill="#1e1e1e" textLength="21.40" lengthAdjust="spacingAndGlyphs" stroke="#1e1e1e" stroke-width="0.33" >0.1M</text>
<line x1="467.20" y1="97.20" x2="489.60" y2="97.20" stroke="#7295b5" stroke-width="0.9" stroke-opacity="0.85"/>
<text x="492.00" y="99.60" font-size="9.9" text-anchor="start" fill="#1e1e1e" textLength="21.40" lengthAdjust="spacingAndGlyphs" stroke="#1e1e1e" stroke-width="0.33" >0.2M</text>
<line x1="467.20" y1="115.50" x2="489.60" y2="115.50" stroke="#7ea067" stroke-width="0.9" stroke-opacity="0.85"/>
<text x="492.00" y="117.90" font-size="9.9" text-anchor="start" fill="#1e1e1e" textLength="21.40" lengthAdjust="spacingAndGlyphs" stroke="#1e1e1e" stroke-width="0.33" >0.4M</text>
<line x1="467.20" y1="133.80" x2="489.60" y2="133.80" stroke="#32435f" stroke-width="0.9" stroke-opacity="0.85"/>
<text x="492.00" y="136.20" font-size="9.9" text-anchor="start" fill="#1e1e1e" textLength="21.40" lengthAdjust="spacingAndGlyphs" stroke="#1e1e1e" stroke-width="0.33" >0.6M</text>
<line x1="467.20" y1="152.10" x2="489.60" y2="152.10" stroke="#805131" stroke-width="0.9" stroke-opacity="0.85"/>
<text x="492.00" y="154.50" font-size="9.9" text-anchor="start" fill="#1e1e1e" textLength="21.40" lengthAdjust="spacingAndGlyphs" stroke="#1e1e1e" stroke-width="0.33" >0.8M</text>
<line x1="467.20" y1="170.40" x2="489.60" y2="170.40" stroke="#636363" stroke-width="0.9" stroke-opacity="0.85"/>
<text x="492.00" y="172.80" font-size="9.9" text-anchor="start" fill="#1e1e1e" textLength="21.40" lengthAdjust="spacingAndGlyphs" stroke="#1e1e1e" stroke-width="0.33" >1.0M</text>
<text x="374.20" y="178.60" font-size="10.4" text-anchor="middle" fill="#303030" textLength="80.00" lengthAdjust="spacingAndGlyphs" stroke="#303030" stroke-width="0.35" >Wavelength (nm)</text>
<text transform="translate(276.84,76.80) rotate(-90)" font-size="10.4" text-anchor="middle" fill="#303030" stroke="#303030" stroke-width="0.35" textLength="20.30" lengthAdjust="spacingAndGlyphs">Abs.</text>
<line x1="42.30" y1="343.90" x2="210.40" y2="343.90" stroke="#d9d9d9" stroke-width="0.8"/>
<text x="34.20" y="346.90" font-size="8.4" text-anchor="end" fill="#383838" stroke="#383838" stroke-width="0.28" >0.0</text>
<line x1="42.30" y1="331.07" x2="210.40" y2="331.07" stroke="#d9d9d9" stroke-width="0.8"/>
<text x="34.20" y="334.07" font-size="8.4" text-anchor="end" fill="#383838" stroke="#383838" stroke-width="0.28" >0.2</text>
<line x1="42.30" y1="318.24" x2="210.40" y2="318.24" stroke="#d9d9d9" stroke-width="0.8"/>
<text x="34.20" y="321.24" font-size="8.4" text-anchor="end" fill="#383838" stroke="#383838" stroke-width="0.28" >0.4</text>
<line x1="42.30" y1="305.41" x2="210.40" y2="305.41" stroke="#d9d9d9" stroke-width="0.8"/>
<text x="34.20" y="308.41" font-size="8.4" text-anchor="end" fill="#383838" stroke="#383838" stroke-width="0.28" >0.6</text>
<line x1="42.30" y1="292.58" x2="210.40" y2="292.58" stroke="#d9d9d9" stroke-width="0.8"/>
<text x="34.20" y="295.58" font-size="8.4" text-anchor="end" fill="#383838" stroke="#383838" stroke-width="0.28" >0.8</text>
<line x1="42.30" y1="279.75" x2="210.40" y2="279.75" stroke="#d9d9d9" stroke-width="0.8"/>
<text x="34.20" y="282.75" font-size="8.4" text-anchor="end" fill="#383838" stroke="#383838" stroke-width="0.28" >1.0</text>
<line x1="42.30" y1="266.92" x2="210.40" y2="266.92" stroke="#d9d9d9" stroke-width="0.8"/>
<text x="34.20" y="269.92" font-size="8.4" text-anchor="end" fill="#383838" stroke="#383838" stroke-width="0.28" >1.2</text>
<line x1="42.30" y1="254.09" x2="210.40" y2="254.09" stroke="#d9d9d9" stroke-width="0.8"/>
<text x="34.20" y="257.09" font-size="8.4" text-anchor="end" fill="#383838" stroke="#383838" stroke-width="0.28" >1.4</text>
<line x1="42.30" y1="241.26" x2="210.40" y2="241.26" stroke="#d9d9d9" stroke-width="0.8"/>
<text x="34.20" y="244.26" font-size="8.4" text-anchor="end" fill="#383838" stroke="#383838" stroke-width="0.28" >1.6</text>
<line x1="42.30" y1="228.43" x2="210.40" y2="228.43" stroke="#d9d9d9" stroke-width="0.8"/>
<text x="34.20" y="231.43" font-size="8.4" text-anchor="end" fill="#383838" stroke="#383838" stroke-width="0.28" >1.8</text>
<line x1="42.30" y1="215.60" x2="210.40" y2="215.60" stroke="#d9d9d9" stroke-width="0.8"/>
<text x="34.20" y="218.60" font-size="8.4" text-anchor="end" fill="#383838" stroke="#383838" stroke-width="0.28" >2.0</text>
<line x1="42.30" y1="215.60" x2="42.30" y2="343.90" stroke="#d9d9d9" stroke-width="0.8"/>
<text x="42.30" y="358.50" font-size="8.4" text-anchor="middle" fill="#383838" stroke="#383838" stroke-width="0.28" >0.0</text>
<line x1="75.92" y1="215.60" x2="75.92" y2="343.90" stroke="#d9d9d9" stroke-width="0.8"/>
<text x="75.92" y="358.50" font-size="8.4" text-anchor="middle" fill="#383838" stroke="#383838" stroke-width="0.28" >0.2</text>
<line x1="109.54" y1="215.60" x2="109.54" y2="343.90" stroke="#d9d9d9" stroke-width="0.8"/>
<text x="109.54" y="358.50" font-size="8.4" text-anchor="middle" fill="#383838" stroke="#383838" stroke-width="0.28" >0.4</text>
<line x1="143.16" y1="215.60" x2="143.16" y2="343.90" stroke="#d9d9d9" stroke-width="0.8"/>
<text x="143.16" y="358.50" font-size="8.4" text-anchor="middle" fill="#383838" stroke="#383838" stroke-width="0.28" >0.6</text>
<line x1="176.78" y1="215.60" x2="176.78" y2="343.90" stroke="#d9d9d9" stroke-width="0.8"/>
<text x="176.78" y="358.50" font-size="8.4" text-anchor="middle" fill="#383838" stroke="#383838" stroke-width="0.28" >0.8</text>
<line x1="210.40" y1="215.60" x2="210.40" y2="343.90" stroke="#d9d9d9" stroke-width="0.8"/>
<text x="210.40" y="358.50" font-size="8.4" text-anchor="middle" fill="#383838" stroke="#383838" stroke-width="0.28" >1.0</text>
<circle cx="59.11" cy="330.75" r="1.7" fill="#4A6CBD"/>
<circle cx="75.92" cy="318.24" r="1.7" fill="#4A6CBD"/>
<circle cx="109.54" cy="295.15" r="1.7" fill="#4A6CBD"/>
<circle cx="143.16" cy="270.77" r="1.7" fill="#4A6CBD"/>
<circle cx="176.78" cy="247.03" r="1.7" fill="#4A6CBD"/>
<circle cx="210.40" cy="222.66" r="1.7" fill="#4A6CBD"/>
<circle cx="59.11" cy="337.48" r="1.7" fill="#DB7A3A"/>
<circle cx="75.92" cy="332.35" r="1.7" fill="#DB7A3A"/>
<circle cx="109.54" cy="322.09" r="1.7" fill="#DB7A3A"/>
<circle cx="143.16" cy="311.82" r="1.7" fill="#DB7A3A"/>
<circle cx="176.78" cy="302.20" r="1.7" fill="#DB7A3A"/>
<circle cx="210.40" cy="291.62" r="1.7" fill="#DB7A3A"/>
<circle cx="59.11" cy="339.41" r="1.7" fill="#A3A3AD"/>
<circle cx="75.92" cy="336.84" r="1.7" fill="#A3A3AD"/>
<circle cx="109.54" cy="331.71" r="1.7" fill="#A3A3AD"/>
<circle cx="143.16" cy="327.86" r="1.7" fill="#A3A3AD"/>
<circle cx="176.78" cy="324.65" r="1.7" fill="#A3A3AD"/>
<circle cx="210.40" cy="320.16" r="1.7" fill="#A3A3AD"/>
<circle cx="59.11" cy="340.05" r="1.7" fill="#F0BE22"/>
<circle cx="75.92" cy="337.48" r="1.7" fill="#F0BE22"/>
<circle cx="109.54" cy="332.35" r="1.7" fill="#F0BE22"/>
<circle cx="143.16" cy="327.86" r="1.7" fill="#F0BE22"/>
<circle cx="176.78" cy="324.01" r="1.7" fill="#F0BE22"/>
<circle cx="210.40" cy="318.88" r="1.7" fill="#F0BE22"/>
<path d="M57.41,331.29L60.81,334.69M57.41,334.69L60.81,331.29" stroke="#4A6CBD" stroke-width="0.9" fill="none"/>
<path d="M74.22,321.03L77.62,324.43M74.22,324.43L77.62,321.03" stroke="#4A6CBD" stroke-width="0.9" fill="none"/>
<path d="M107.84,302.43L111.24,305.83M107.84,305.83L111.24,302.43" stroke="#4A6CBD" stroke-width="0.9" fill="none"/>
<path d="M141.46,283.18L144.86,286.58M141.46,286.58L144.86,283.18" stroke="#4A6CBD" stroke-width="0.9" fill="none"/>
<path d="M175.08,264.58L178.48,267.98M175.08,267.98L178.48,264.58" stroke="#4A6CBD" stroke-width="0.9" fill="none"/>
<path d="M208.70,247.26L212.10,250.66M208.70,250.66L212.10,247.26" stroke="#4A6CBD" stroke-width="0.9" fill="none"/>
<path d="M57.41,337.07L60.81,340.47M57.41,340.47L60.81,337.07" stroke="#DB7A3A" stroke-width="0.9" fill="none"/>
<path d="M74.22,333.86L77.62,337.26M74.22,337.26L77.62,333.86" stroke="#DB7A3A" stroke-width="0.9" fill="none"/>
<path d="M107.84,326.16L111.24,329.56M107.84,329.56L111.24,326.16" stroke="#DB7A3A" stroke-width="0.9" fill="none"/>
<path d="M141.46,320.39L144.86,323.79M141.46,323.79L144.86,320.39" stroke="#DB7A3A" stroke-width="0.9" fill="none"/>
<path d="M175.08,313.65L178.48,317.05M175.08,317.05L178.48,313.65" stroke="#DB7A3A" stroke-width="0.9" fill="none"/>
<path d="M208.70,307.56L212.10,310.96M208.70,310.96L212.10,307.56" stroke="#DB7A3A" stroke-width="0.9" fill="none"/>
<path d="M57.41,338.99L60.81,342.39M57.41,342.39L60.81,338.99" stroke="#A3A3AD" stroke-width="0.9" fill="none"/>
<path d="M74.22,337.07L77.62,340.47M74.22,340.47L77.62,337.07" stroke="#A3A3AD" stroke-width="0.9" fill="none"/>
<path d="M107.84,333.22L111.24,336.62M107.84,336.62L111.24,333.22" stroke="#A3A3AD" stroke-width="0.9" fill="none"/>
<path d="M141.46,331.29L144.86,334.69M141.46,334.69L144.86,331.29" stroke="#A3A3AD" stroke-width="0.9" fill="none"/>
<path d="M175.08,329.37L178.48,332.77M175.08,332.77L178.48,329.37" stroke="#A3A3AD" stroke-width="0.9" fill="none"/>
<path d="M208.70,327.12L212.10,330.52M208.70,330.52L212.10,327.12" stroke="#A3A3AD" stroke-width="0.9" fill="none"/>
<path d="M57.41,339.63L60.81,343.03M57.41,343.03L60.81,339.63" stroke="#F0BE22" stroke-width="0.9" fill="none"/>
<path d="M74.22,337.71L77.62,341.11M74.22,341.11L77.62,337.71" stroke="#F0BE22" stroke-width="0.9" fill="none"/>
<path d="M107.84,334.50L111.24,337.90M107.84,337.90L111.24,334.50" stroke="#F0BE22" stroke-width="0.9" fill="none"/>
<path d="M141.46,332.26L144.86,335.66M141.46,335.66L144.86,332.26" stroke="#F0BE22" stroke-width="0.9" fill="none"/>
<path d="M175.08,329.37L178.48,332.77M175.08,332.77L178.48,329.37" stroke="#F0BE22" stroke-width="0.9" fill="none"/>
<path d="M208.70,327.12L212.10,330.52M208.70,330.52L212.10,327.12" stroke="#F0BE22" stroke-width="0.9" fill="none"/>
<circle cx="222.30" cy="238.60" r="1.7" fill="#4A6CBD"/>
<text x="228.20" y="241.20" font-size="9.9" text-anchor="start" fill="#1e1e1e" textLength="27.70" lengthAdjust="spacingAndGlyphs" stroke="#1e1e1e" stroke-width="0.33" >301nm</text>
<text x="228.20" y="253.70" font-size="9.9" text-anchor="start" fill="#1e1e1e" textLength="20.40" lengthAdjust="spacingAndGlyphs" stroke="#1e1e1e" stroke-width="0.33" >(mix)</text>
<circle cx="222.30" cy="263.30" r="1.7" fill="#DB7A3A"/>
<text x="228.20" y="265.90" font-size="9.9" text-anchor="start" fill="#1e1e1e" textLength="27.70" lengthAdjust="spacingAndGlyphs" stroke="#1e1e1e" stroke-width="0.33" >394nm</text>
<text x="228.20" y="278.40" font-size="9.9" text-anchor="start" fill="#1e1e1e" textLength="20.40" lengthAdjust="spacingAndGlyphs" stroke="#1e1e1e" stroke-width="0.33" >(mix)</text>
<circle cx="222.30" cy="288.00" r="1.7" fill="#A3A3AD"/>
<text x="228.20" y="290.60" font-size="9.9" text-anchor="start" fill="#1e1e1e" textLength="27.70" lengthAdjust="spacingAndGlyphs" stroke="#1e1e1e" stroke-width="0.33" >658nm</text>
<text x="228.20" y="303.10" font-size="9.9" text-anchor="start" fill="#1e1e1e" textLength="20.40" lengthAdjust="spacingAndGlyphs" stroke="#1e1e1e" stroke-width="0.33" >(mix)</text>
<circle cx="222.30" cy="312.70" r="1.7" fill="#F0BE22"/>
<text x="228.20" y="315.30" font-size="9.9" text-anchor="start" fill="#1e1e1e" textLength="27.70" lengthAdjust="spacingAndGlyphs" stroke="#1e1e1e" stroke-width="0.33" >720nm</text>
<text x="228.20" y="327.80" font-size="9.9" text-anchor="start" fill="#1e1e1e" textLength="20.40" lengthAdjust="spacingAndGlyphs" stroke="#1e1e1e" stroke-width="0.33" >(mix)</text>
<text x="122.00" y="371.70" font-size="10.4" text-anchor="middle" fill="#303030" textLength="83.50" lengthAdjust="spacingAndGlyphs" stroke="#303030" stroke-width="0.35" >Concentration (M)</text>
<text transform="translate(17.64,271.40) rotate(-90)" font-size="10.4" text-anchor="middle" fill="#303030" stroke="#303030" stroke-width="0.35" textLength="19.00" lengthAdjust="spacingAndGlyphs">Abs.</text>
<line x1="301.60" y1="344.20" x2="471.80" y2="344.20" stroke="#d9d9d9" stroke-width="0.8"/>
<text x="293.40" y="347.20" font-size="8.4" text-anchor="end" fill="#383838" stroke="#383838" stroke-width="0.28" >0.0</text>
<line x1="301.60" y1="327.90" x2="471.80" y2="327.90" stroke="#d9d9d9" stroke-width="0.8"/>
<text x="293.40" y="330.90" font-size="8.4" text-anchor="end" fill="#383838" stroke="#383838" stroke-width="0.28" >0.2</text>
<line x1="301.60" y1="311.60" x2="471.80" y2="311.60" stroke="#d9d9d9" stroke-width="0.8"/>
<text x="293.40" y="314.60" font-size="8.4" text-anchor="end" fill="#383838" stroke="#383838" stroke-width="0.28" >0.4</text>
<line x1="301.60" y1="295.30" x2="471.80" y2="295.30" stroke="#d9d9d9" stroke-width="0.8"/>
<text x="293.40" y="298.30" font-size="8.4" text-anchor="end" fill="#383838" stroke="#383838" stroke-width="0.28" >0.6</text>
<line x1="301.60" y1="279.00" x2="471.80" y2="279.00" stroke="#d9d9d9" stroke-width="0.8"/>
<text x="293.40" y="282.00" font-size="8.4" text-anchor="end" fill="#383838" stroke="#383838" stroke-width="0.28" >0.8</text>
<line x1="301.60" y1="262.70" x2="471.80" y2="262.70" stroke="#d9d9d9" stroke-width="0.8"/>
<text x="293.40" y="265.70" font-size="8.4" text-anchor="end" fill="#383838" stroke="#383838" stroke-width="0.28" >1.0</text>
<line x1="301.60" y1="246.40" x2="471.80" y2="246.40" stroke="#d9d9d9" stroke-width="0.8"/>
<text x="293.40" y="249.40" font-size="8.4" text-anchor="end" fill="#383838" stroke="#383838" stroke-width="0.28" >1.2</text>
<line x1="301.60" y1="230.10" x2="471.80" y2="230.10" stroke="#d9d9d9" stroke-width="0.8"/>
<text x="293.40" y="233.10" font-size="8.4" text-anchor="end" fill="#383838" stroke="#383838" stroke-width="0.28" >1.4</text>
<line x1="301.60" y1="213.80" x2="471.80" y2="213.80" stroke="#d9d9d9" stroke-width="0.8"/>
<text x="293.40" y="216.80" font-size="8.4" text-anchor="end" fill="#383838" stroke="#383838" stroke-width="0.28" >1.6</text>
<line x1="301.60" y1="213.80" x2="301.60" y2="344.20" stroke="#d9d9d9" stroke-width="0.8"/>
<text x="301.60" y="359.10" font-size="8.4" text-anchor="middle" fill="#383838" stroke="#383838" stroke-width="0.28" >0.0</text>
<line x1="335.64" y1="213.80" x2="335.64" y2="344.20" stroke="#d9d9d9" stroke-width="0.8"/>
<text x="335.64" y="359.10" font-size="8.4" text-anchor="middle" fill="#383838" stroke="#383838" stroke-width="0.28" >0.2</text>
<line x1="369.68" y1="213.80" x2="369.68" y2="344.20" stroke="#d9d9d9" stroke-width="0.8"/>
<text x="369.68" y="359.10" font-size="8.4" text-anchor="middle" fill="#383838" stroke="#383838" stroke-width="0.28" >0.4</text>
<line x1="403.72" y1="213.80" x2="403.72" y2="344.20" stroke="#d9d9d9" stroke-width="0.8"/>
<text x="403.72" y="359.10" font-size="8.4" text-anchor="middle" fill="#383838" stroke="#383838" stroke-width="0.28" >0.6</text>
<line x1="437.76" y1="213.80" x2="437.76" y2="344.20" stroke="#d9d9d9" stroke-width="0.8"/>
<text x="437.76" y="359.10" font-size="8.4" text-anchor="middle" fill="#383838" stroke="#383838" stroke-width="0.28" >0.8</text>
<line x1="471.80" y1="213.80" x2="471.80" y2="344.20" stroke="#d9d9d9" stroke-width="0.8"/>
<text x="471.80" y="359.10" font-size="8.4" text-anchor="middle" fill="#383838" stroke="#383838" stroke-width="0.28" >1.0</text>
<circle cx="308.41" cy="300.60" r="1.7" fill="#4A6CBD"/>
<circle cx="311.81" cy="288.78" r="1.7" fill="#4A6CBD"/>
<circle cx="315.22" cy="276.56" r="1.7" fill="#4A6CBD"/>
<circle cx="318.62" cy="270.04" r="1.7" fill="#4A6CBD"/>
<circle cx="335.64" cy="251.62" r="1.7" fill="#4A6CBD"/>
<circle cx="369.68" cy="246.81" r="1.7" fill="#4A6CBD"/>
<circle cx="403.72" cy="245.59" r="1.7" fill="#4A6CBD"/>
<circle cx="437.76" cy="244.28" r="1.7" fill="#4A6CBD"/>
<circle cx="471.80" cy="242.49" r="1.7" fill="#4A6CBD"/>
<circle cx="308.41" cy="325.45" r="1.7" fill="#DB7A3A"/>
<circle cx="311.81" cy="319.75" r="1.7" fill="#DB7A3A"/>
<circle cx="315.22" cy="312.42" r="1.7" fill="#DB7A3A"/>
<circle cx="318.62" cy="306.71" r="1.7" fill="#DB7A3A"/>
<circle cx="335.64" cy="283.07" r="1.7" fill="#DB7A3A"/>
<circle cx="369.68" cy="261.07" r="1.7" fill="#DB7A3A"/>
<circle cx="403.72" cy="253.74" r="1.7" fill="#DB7A3A"/>
<circle cx="437.76" cy="249.90" r="1.7" fill="#DB7A3A"/>
<circle cx="471.80" cy="247.22" r="1.7" fill="#DB7A3A"/>
<circle cx="308.41" cy="337.27" r="1.7" fill="#A3A3AD"/>
<circle cx="311.81" cy="334.42" r="1.7" fill="#A3A3AD"/>
<circle cx="315.22" cy="331.16" r="1.7" fill="#A3A3AD"/>
<circle cx="318.62" cy="328.71" r="1.7" fill="#A3A3AD"/>
<circle cx="335.64" cy="314.86" r="1.7" fill="#A3A3AD"/>
<circle cx="369.68" cy="294.49" r="1.7" fill="#A3A3AD"/>
<circle cx="403.72" cy="279.41" r="1.7" fill="#A3A3AD"/>
<circle cx="437.76" cy="270.85" r="1.7" fill="#A3A3AD"/>
<circle cx="471.80" cy="263.03" r="1.7" fill="#A3A3AD"/>
<circle cx="308.41" cy="336.05" r="1.7" fill="#F0BE22"/>
<circle cx="311.81" cy="332.79" r="1.7" fill="#F0BE22"/>
<circle cx="315.22" cy="329.53" r="1.7" fill="#F0BE22"/>
<circle cx="318.62" cy="327.08" r="1.7" fill="#F0BE22"/>
<circle cx="335.64" cy="311.60" r="1.7" fill="#F0BE22"/>
<circle cx="369.68" cy="290.41" r="1.7" fill="#F0BE22"/>
<circle cx="403.72" cy="274.11" r="1.7" fill="#F0BE22"/>
<circle cx="437.76" cy="265.96" r="1.7" fill="#F0BE22"/>
<circle cx="471.80" cy="258.62" r="1.7" fill="#F0BE22"/>
<path d="M303.30,318.05L306.70,321.45M303.30,321.45L306.70,318.05" stroke="#4A6CBD" stroke-width="0.9" fill="none"/>
<path d="M306.71,298.08L310.11,301.48M306.71,301.48L310.11,298.08" stroke="#4A6CBD" stroke-width="0.9" fill="none"/>
<path d="M310.11,283.00L313.51,286.40M310.11,286.40L313.51,283.00" stroke="#4A6CBD" stroke-width="0.9" fill="none"/>
<path d="M316.92,257.98L320.32,261.38M316.92,261.38L320.32,257.98" stroke="#4A6CBD" stroke-width="0.9" fill="none"/>
<path d="M333.94,234.11L337.34,237.50M333.94,237.50L337.34,234.11" stroke="#4A6CBD" stroke-width="0.9" fill="none"/>
<path d="M367.98,230.85L371.38,234.25M367.98,234.25L371.38,230.85" stroke="#4A6CBD" stroke-width="0.9" fill="none"/>
<path d="M402.02,230.85L405.42,234.25M402.02,234.25L405.42,230.85" stroke="#4A6CBD" stroke-width="0.9" fill="none"/>
<path d="M436.06,230.03L439.46,233.43M436.06,233.43L439.46,230.03" stroke="#4A6CBD" stroke-width="0.9" fill="none"/>
<path d="M470.10,230.85L473.50,234.25M470.10,234.25L473.50,230.85" stroke="#4A6CBD" stroke-width="0.9" fill="none"/>
<path d="M303.30,332.39L306.70,335.79M303.30,335.79L306.70,332.39" stroke="#DB7A3A" stroke-width="0.9" fill="none"/>
<path d="M306.71,323.75L310.11,327.15M306.71,327.15L310.11,323.75" stroke="#DB7A3A" stroke-width="0.9" fill="none"/>
<path d="M310.11,318.05L313.51,321.45M310.11,321.45L313.51,318.05" stroke="#DB7A3A" stroke-width="0.9" fill="none"/>
<path d="M316.92,304.19L320.32,307.59M316.92,307.59L320.32,304.19" stroke="#DB7A3A" stroke-width="0.9" fill="none"/>
<path d="M333.94,274.86L337.34,278.25M333.94,278.25L337.34,274.86" stroke="#DB7A3A" stroke-width="0.9" fill="none"/>
<path d="M367.98,239.00L371.38,242.39M367.98,242.39L371.38,239.00" stroke="#DB7A3A" stroke-width="0.9" fill="none"/>
<path d="M402.02,226.77L405.42,230.17M402.02,230.17L405.42,226.77" stroke="#DB7A3A" stroke-width="0.9" fill="none"/>
<path d="M436.06,224.49L439.46,227.89M436.06,227.89L439.46,224.49" stroke="#DB7A3A" stroke-width="0.9" fill="none"/>
<path d="M470.10,224.33L473.50,227.73M470.10,227.73L473.50,224.33" stroke="#DB7A3A" stroke-width="0.9" fill="none"/>
<path d="M303.30,338.43L306.70,341.82M303.30,341.82L306.70,338.43" stroke="#A3A3AD" stroke-width="0.9" fill="none"/>
<path d="M306.71,335.17L310.11,338.56M306.71,338.56L310.11,335.17" stroke="#A3A3AD" stroke-width="0.9" fill="none"/>
<path d="M310.11,331.91L313.51,335.31M310.11,335.31L313.51,331.91" stroke="#A3A3AD" stroke-width="0.9" fill="none"/>
<path d="M316.92,324.57L320.32,327.97M316.92,327.97L320.32,324.57" stroke="#A3A3AD" stroke-width="0.9" fill="none"/>
<path d="M333.94,311.53L337.34,314.93M333.94,314.93L337.34,311.53" stroke="#A3A3AD" stroke-width="0.9" fill="none"/>
<path d="M367.98,287.08L371.38,290.48M367.98,290.48L371.38,287.08" stroke="#A3A3AD" stroke-width="0.9" fill="none"/>
<path d="M402.02,266.70L405.42,270.10M402.02,270.10L405.42,266.70" stroke="#A3A3AD" stroke-width="0.9" fill="none"/>
<path d="M436.06,248.20L439.46,251.60M436.06,251.60L439.46,248.20" stroke="#A3A3AD" stroke-width="0.9" fill="none"/>
<path d="M470.10,237.37L473.50,240.76M470.10,240.76L473.50,237.37" stroke="#A3A3AD" stroke-width="0.9" fill="none"/>
<path d="M303.30,337.61L306.70,341.01M303.30,341.01L306.70,337.61" stroke="#F0BE22" stroke-width="0.9" fill="none"/>
<path d="M306.71,334.35L310.11,337.75M306.71,337.75L310.11,334.35" stroke="#F0BE22" stroke-width="0.9" fill="none"/>
<path d="M310.11,330.27L313.51,333.67M310.11,333.67L313.51,330.27" stroke="#F0BE22" stroke-width="0.9" fill="none"/>
<path d="M316.92,323.75L320.32,327.15M316.92,327.15L320.32,323.75" stroke="#F0BE22" stroke-width="0.9" fill="none"/>
<path d="M333.94,308.27L337.34,311.67M333.94,311.67L337.34,308.27" stroke="#F0BE22" stroke-width="0.9" fill="none"/>
<path d="M367.98,281.38L371.38,284.77M367.98,284.77L371.38,281.38" stroke="#F0BE22" stroke-width="0.9" fill="none"/>
<path d="M402.02,258.56L405.42,261.95M402.02,261.95L405.42,258.56" stroke="#F0BE22" stroke-width="0.9" fill="none"/>
<path d="M436.06,242.58L439.46,245.98M436.06,245.98L439.46,242.58" stroke="#F0BE22" stroke-width="0.9" fill="none"/>
<path d="M470.10,230.85L473.50,234.25M470.10,234.25L473.50,230.85" stroke="#F0BE22" stroke-width="0.9" fill="none"/>
<circle cx="483.40" cy="236.70" r="1.7" fill="#4A6CBD"/>
<text x="489.20" y="239.30" font-size="9.9" text-anchor="start" fill="#1e1e1e" textLength="28.80" lengthAdjust="spacingAndGlyphs" stroke="#1e1e1e" stroke-width="0.33" >301nm</text>
<text x="489.20" y="252.90" font-size="9.9" text-anchor="start" fill="#1e1e1e" textLength="20.80" lengthAdjust="spacingAndGlyphs" stroke="#1e1e1e" stroke-width="0.33" >(mix)</text>
<circle cx="483.40" cy="262.00" r="1.7" fill="#DB7A3A"/>
<text x="489.20" y="264.60" font-size="9.9" text-anchor="start" fill="#1e1e1e" textLength="28.80" lengthAdjust="spacingAndGlyphs" stroke="#1e1e1e" stroke-width="0.33" >394nm</text>
<text x="489.20" y="278.20" font-size="9.9" text-anchor="start" fill="#1e1e1e" textLength="20.80" lengthAdjust="spacingAndGlyphs" stroke="#1e1e1e" stroke-width="0.33" >(mix)</text>
<circle cx="483.40" cy="287.30" r="1.7" fill="#A3A3AD"/>
<text x="489.20" y="289.90" font-size="9.9" text-anchor="start" fill="#1e1e1e" textLength="28.80" lengthAdjust="spacingAndGlyphs" stroke="#1e1e1e" stroke-width="0.33" >658nm</text>
<text x="489.20" y="303.50" font-size="9.9" text-anchor="start" fill="#1e1e1e" textLength="20.80" lengthAdjust="spacingAndGlyphs" stroke="#1e1e1e" stroke-width="0.33" >(mix)</text>
<circle cx="483.40" cy="312.60" r="1.7" fill="#F0BE22"/>
<text x="489.20" y="315.20" font-size="9.9" text-anchor="start" fill="#1e1e1e" textLength="28.80" lengthAdjust="spacingAndGlyphs" stroke="#1e1e1e" stroke-width="0.33" >720nm</text>
<text x="489.20" y="328.80" font-size="9.9" text-anchor="start" fill="#1e1e1e" textLength="20.80" lengthAdjust="spacingAndGlyphs" stroke="#1e1e1e" stroke-width="0.33" >(mix)</text>
<text x="382.40" y="372.00" font-size="10.4" text-anchor="middle" fill="#303030" textLength="85.20" lengthAdjust="spacingAndGlyphs" stroke="#303030" stroke-width="0.35" >Concentration (M)</text>
<text transform="translate(277.74,269.90) rotate(-90)" font-size="10.4" text-anchor="middle" fill="#303030" stroke="#303030" stroke-width="0.35" textLength="19.30" lengthAdjust="spacingAndGlyphs">Abs.</text>
</svg>
</body></html>
